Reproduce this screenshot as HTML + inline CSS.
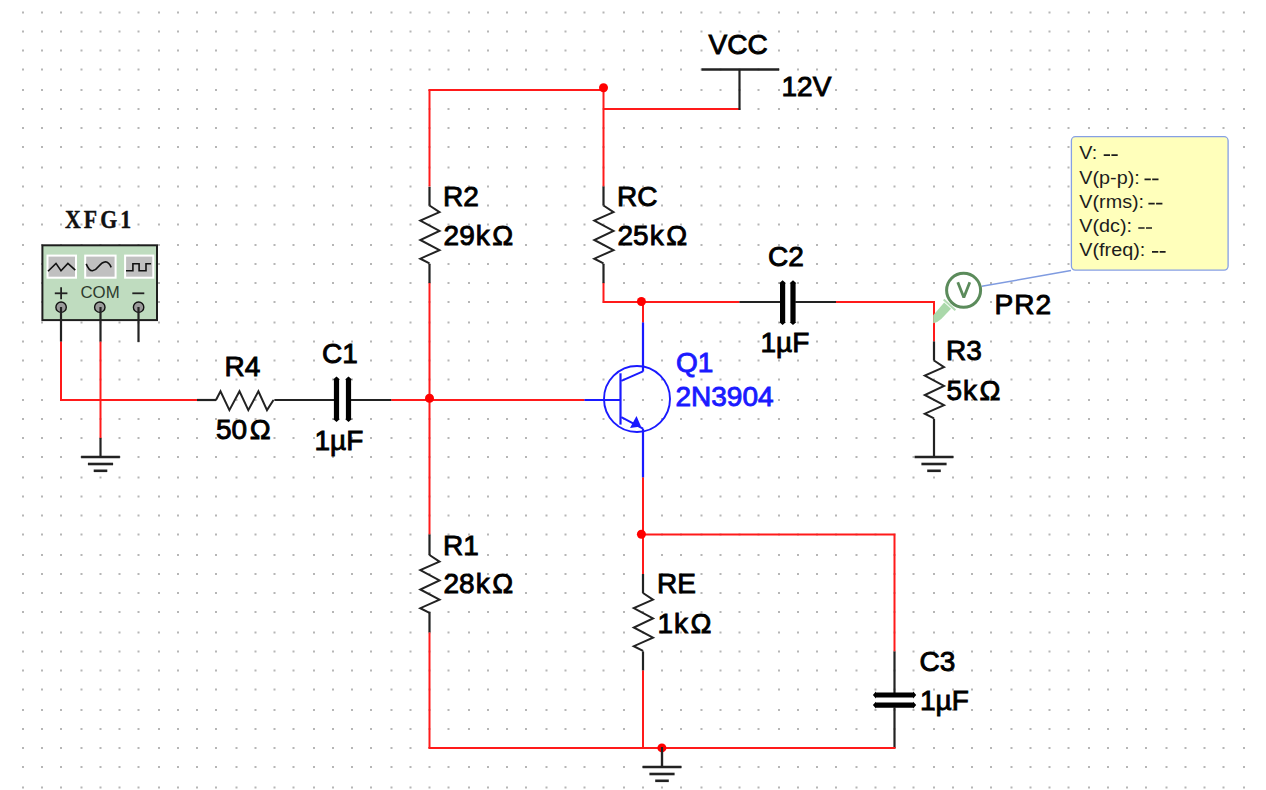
<!DOCTYPE html>
<html><head><meta charset="utf-8"><title>Multisim schematic</title>
<style>html,body{margin:0;padding:0;background:#fff;overflow:hidden}svg{display:block}</style>
</head><body>
<svg width="1266" height="790" viewBox="0 0 1266 790" font-family="Liberation Sans">
<path fill="#b6b6b6" d="M22 11.5h2v2h-2zM22 30.5h2v2h-2zM22 49.5h2v2h-2zM22 68.5h2v2h-2zM22 89h2v2h-2zM22 108h2v2h-2zM22 127h2v2h-2zM22 146h2v2h-2zM22 166.5h2v2h-2zM22 185.5h2v2h-2zM22 204.5h2v2h-2zM22 223.5h2v2h-2zM22 244h2v2h-2zM22 263h2v2h-2zM22 282h2v2h-2zM22 301h2v2h-2zM22 321.5h2v2h-2zM22 340.5h2v2h-2zM22 359.5h2v2h-2zM22 378.5h2v2h-2zM22 399h2v2h-2zM22 418h2v2h-2zM22 437h2v2h-2zM22 456h2v2h-2zM22 476.5h2v2h-2zM22 495.5h2v2h-2zM22 514.5h2v2h-2zM22 533.5h2v2h-2zM22 554h2v2h-2zM22 573h2v2h-2zM22 592h2v2h-2zM22 611h2v2h-2zM22 631.5h2v2h-2zM22 650.5h2v2h-2zM22 669.5h2v2h-2zM22 688.5h2v2h-2zM22 709h2v2h-2zM22 728h2v2h-2zM22 747h2v2h-2zM22 766h2v2h-2zM22 786.5h2v2h-2zM41 11.5h2v2h-2zM41 30.5h2v2h-2zM41 49.5h2v2h-2zM41 68.5h2v2h-2zM41 89h2v2h-2zM41 108h2v2h-2zM41 127h2v2h-2zM41 146h2v2h-2zM41 166.5h2v2h-2zM41 185.5h2v2h-2zM41 204.5h2v2h-2zM41 223.5h2v2h-2zM41 244h2v2h-2zM41 263h2v2h-2zM41 282h2v2h-2zM41 301h2v2h-2zM41 321.5h2v2h-2zM41 340.5h2v2h-2zM41 359.5h2v2h-2zM41 378.5h2v2h-2zM41 399h2v2h-2zM41 418h2v2h-2zM41 437h2v2h-2zM41 456h2v2h-2zM41 476.5h2v2h-2zM41 495.5h2v2h-2zM41 514.5h2v2h-2zM41 533.5h2v2h-2zM41 554h2v2h-2zM41 573h2v2h-2zM41 592h2v2h-2zM41 611h2v2h-2zM41 631.5h2v2h-2zM41 650.5h2v2h-2zM41 669.5h2v2h-2zM41 688.5h2v2h-2zM41 709h2v2h-2zM41 728h2v2h-2zM41 747h2v2h-2zM41 766h2v2h-2zM41 786.5h2v2h-2zM60 11.5h2v2h-2zM60 30.5h2v2h-2zM60 49.5h2v2h-2zM60 68.5h2v2h-2zM60 89h2v2h-2zM60 108h2v2h-2zM60 127h2v2h-2zM60 146h2v2h-2zM60 166.5h2v2h-2zM60 185.5h2v2h-2zM60 204.5h2v2h-2zM60 223.5h2v2h-2zM60 244h2v2h-2zM60 263h2v2h-2zM60 282h2v2h-2zM60 301h2v2h-2zM60 321.5h2v2h-2zM60 340.5h2v2h-2zM60 359.5h2v2h-2zM60 378.5h2v2h-2zM60 399h2v2h-2zM60 418h2v2h-2zM60 437h2v2h-2zM60 456h2v2h-2zM60 476.5h2v2h-2zM60 495.5h2v2h-2zM60 514.5h2v2h-2zM60 533.5h2v2h-2zM60 554h2v2h-2zM60 573h2v2h-2zM60 592h2v2h-2zM60 611h2v2h-2zM60 631.5h2v2h-2zM60 650.5h2v2h-2zM60 669.5h2v2h-2zM60 688.5h2v2h-2zM60 709h2v2h-2zM60 728h2v2h-2zM60 747h2v2h-2zM60 766h2v2h-2zM60 786.5h2v2h-2zM80.5 11.5h2v2h-2zM80.5 30.5h2v2h-2zM80.5 49.5h2v2h-2zM80.5 68.5h2v2h-2zM80.5 89h2v2h-2zM80.5 108h2v2h-2zM80.5 127h2v2h-2zM80.5 146h2v2h-2zM80.5 166.5h2v2h-2zM80.5 185.5h2v2h-2zM80.5 204.5h2v2h-2zM80.5 223.5h2v2h-2zM80.5 244h2v2h-2zM80.5 263h2v2h-2zM80.5 282h2v2h-2zM80.5 301h2v2h-2zM80.5 321.5h2v2h-2zM80.5 340.5h2v2h-2zM80.5 359.5h2v2h-2zM80.5 378.5h2v2h-2zM80.5 399h2v2h-2zM80.5 418h2v2h-2zM80.5 437h2v2h-2zM80.5 456h2v2h-2zM80.5 476.5h2v2h-2zM80.5 495.5h2v2h-2zM80.5 514.5h2v2h-2zM80.5 533.5h2v2h-2zM80.5 554h2v2h-2zM80.5 573h2v2h-2zM80.5 592h2v2h-2zM80.5 611h2v2h-2zM80.5 631.5h2v2h-2zM80.5 650.5h2v2h-2zM80.5 669.5h2v2h-2zM80.5 688.5h2v2h-2zM80.5 709h2v2h-2zM80.5 728h2v2h-2zM80.5 747h2v2h-2zM80.5 766h2v2h-2zM80.5 786.5h2v2h-2zM99.5 11.5h2v2h-2zM99.5 30.5h2v2h-2zM99.5 49.5h2v2h-2zM99.5 68.5h2v2h-2zM99.5 89h2v2h-2zM99.5 108h2v2h-2zM99.5 127h2v2h-2zM99.5 146h2v2h-2zM99.5 166.5h2v2h-2zM99.5 185.5h2v2h-2zM99.5 204.5h2v2h-2zM99.5 223.5h2v2h-2zM99.5 244h2v2h-2zM99.5 263h2v2h-2zM99.5 282h2v2h-2zM99.5 301h2v2h-2zM99.5 321.5h2v2h-2zM99.5 340.5h2v2h-2zM99.5 359.5h2v2h-2zM99.5 378.5h2v2h-2zM99.5 399h2v2h-2zM99.5 418h2v2h-2zM99.5 437h2v2h-2zM99.5 456h2v2h-2zM99.5 476.5h2v2h-2zM99.5 495.5h2v2h-2zM99.5 514.5h2v2h-2zM99.5 533.5h2v2h-2zM99.5 554h2v2h-2zM99.5 573h2v2h-2zM99.5 592h2v2h-2zM99.5 611h2v2h-2zM99.5 631.5h2v2h-2zM99.5 650.5h2v2h-2zM99.5 669.5h2v2h-2zM99.5 688.5h2v2h-2zM99.5 709h2v2h-2zM99.5 728h2v2h-2zM99.5 747h2v2h-2zM99.5 766h2v2h-2zM99.5 786.5h2v2h-2zM118.5 11.5h2v2h-2zM118.5 30.5h2v2h-2zM118.5 49.5h2v2h-2zM118.5 68.5h2v2h-2zM118.5 89h2v2h-2zM118.5 108h2v2h-2zM118.5 127h2v2h-2zM118.5 146h2v2h-2zM118.5 166.5h2v2h-2zM118.5 185.5h2v2h-2zM118.5 204.5h2v2h-2zM118.5 223.5h2v2h-2zM118.5 244h2v2h-2zM118.5 263h2v2h-2zM118.5 282h2v2h-2zM118.5 301h2v2h-2zM118.5 321.5h2v2h-2zM118.5 340.5h2v2h-2zM118.5 359.5h2v2h-2zM118.5 378.5h2v2h-2zM118.5 399h2v2h-2zM118.5 418h2v2h-2zM118.5 437h2v2h-2zM118.5 456h2v2h-2zM118.5 476.5h2v2h-2zM118.5 495.5h2v2h-2zM118.5 514.5h2v2h-2zM118.5 533.5h2v2h-2zM118.5 554h2v2h-2zM118.5 573h2v2h-2zM118.5 592h2v2h-2zM118.5 611h2v2h-2zM118.5 631.5h2v2h-2zM118.5 650.5h2v2h-2zM118.5 669.5h2v2h-2zM118.5 688.5h2v2h-2zM118.5 709h2v2h-2zM118.5 728h2v2h-2zM118.5 747h2v2h-2zM118.5 766h2v2h-2zM118.5 786.5h2v2h-2zM137.5 11.5h2v2h-2zM137.5 30.5h2v2h-2zM137.5 49.5h2v2h-2zM137.5 68.5h2v2h-2zM137.5 89h2v2h-2zM137.5 108h2v2h-2zM137.5 127h2v2h-2zM137.5 146h2v2h-2zM137.5 166.5h2v2h-2zM137.5 185.5h2v2h-2zM137.5 204.5h2v2h-2zM137.5 223.5h2v2h-2zM137.5 244h2v2h-2zM137.5 263h2v2h-2zM137.5 282h2v2h-2zM137.5 301h2v2h-2zM137.5 321.5h2v2h-2zM137.5 340.5h2v2h-2zM137.5 359.5h2v2h-2zM137.5 378.5h2v2h-2zM137.5 399h2v2h-2zM137.5 418h2v2h-2zM137.5 437h2v2h-2zM137.5 456h2v2h-2zM137.5 476.5h2v2h-2zM137.5 495.5h2v2h-2zM137.5 514.5h2v2h-2zM137.5 533.5h2v2h-2zM137.5 554h2v2h-2zM137.5 573h2v2h-2zM137.5 592h2v2h-2zM137.5 611h2v2h-2zM137.5 631.5h2v2h-2zM137.5 650.5h2v2h-2zM137.5 669.5h2v2h-2zM137.5 688.5h2v2h-2zM137.5 709h2v2h-2zM137.5 728h2v2h-2zM137.5 747h2v2h-2zM137.5 766h2v2h-2zM137.5 786.5h2v2h-2zM158 11.5h2v2h-2zM158 30.5h2v2h-2zM158 49.5h2v2h-2zM158 68.5h2v2h-2zM158 89h2v2h-2zM158 108h2v2h-2zM158 127h2v2h-2zM158 146h2v2h-2zM158 166.5h2v2h-2zM158 185.5h2v2h-2zM158 204.5h2v2h-2zM158 223.5h2v2h-2zM158 244h2v2h-2zM158 263h2v2h-2zM158 282h2v2h-2zM158 301h2v2h-2zM158 321.5h2v2h-2zM158 340.5h2v2h-2zM158 359.5h2v2h-2zM158 378.5h2v2h-2zM158 399h2v2h-2zM158 418h2v2h-2zM158 437h2v2h-2zM158 456h2v2h-2zM158 476.5h2v2h-2zM158 495.5h2v2h-2zM158 514.5h2v2h-2zM158 533.5h2v2h-2zM158 554h2v2h-2zM158 573h2v2h-2zM158 592h2v2h-2zM158 611h2v2h-2zM158 631.5h2v2h-2zM158 650.5h2v2h-2zM158 669.5h2v2h-2zM158 688.5h2v2h-2zM158 709h2v2h-2zM158 728h2v2h-2zM158 747h2v2h-2zM158 766h2v2h-2zM158 786.5h2v2h-2zM177 11.5h2v2h-2zM177 30.5h2v2h-2zM177 49.5h2v2h-2zM177 68.5h2v2h-2zM177 89h2v2h-2zM177 108h2v2h-2zM177 127h2v2h-2zM177 146h2v2h-2zM177 166.5h2v2h-2zM177 185.5h2v2h-2zM177 204.5h2v2h-2zM177 223.5h2v2h-2zM177 244h2v2h-2zM177 263h2v2h-2zM177 282h2v2h-2zM177 301h2v2h-2zM177 321.5h2v2h-2zM177 340.5h2v2h-2zM177 359.5h2v2h-2zM177 378.5h2v2h-2zM177 399h2v2h-2zM177 418h2v2h-2zM177 437h2v2h-2zM177 456h2v2h-2zM177 476.5h2v2h-2zM177 495.5h2v2h-2zM177 514.5h2v2h-2zM177 533.5h2v2h-2zM177 554h2v2h-2zM177 573h2v2h-2zM177 592h2v2h-2zM177 611h2v2h-2zM177 631.5h2v2h-2zM177 650.5h2v2h-2zM177 669.5h2v2h-2zM177 688.5h2v2h-2zM177 709h2v2h-2zM177 728h2v2h-2zM177 747h2v2h-2zM177 766h2v2h-2zM177 786.5h2v2h-2zM196 11.5h2v2h-2zM196 30.5h2v2h-2zM196 49.5h2v2h-2zM196 68.5h2v2h-2zM196 89h2v2h-2zM196 108h2v2h-2zM196 127h2v2h-2zM196 146h2v2h-2zM196 166.5h2v2h-2zM196 185.5h2v2h-2zM196 204.5h2v2h-2zM196 223.5h2v2h-2zM196 244h2v2h-2zM196 263h2v2h-2zM196 282h2v2h-2zM196 301h2v2h-2zM196 321.5h2v2h-2zM196 340.5h2v2h-2zM196 359.5h2v2h-2zM196 378.5h2v2h-2zM196 399h2v2h-2zM196 418h2v2h-2zM196 437h2v2h-2zM196 456h2v2h-2zM196 476.5h2v2h-2zM196 495.5h2v2h-2zM196 514.5h2v2h-2zM196 533.5h2v2h-2zM196 554h2v2h-2zM196 573h2v2h-2zM196 592h2v2h-2zM196 611h2v2h-2zM196 631.5h2v2h-2zM196 650.5h2v2h-2zM196 669.5h2v2h-2zM196 688.5h2v2h-2zM196 709h2v2h-2zM196 728h2v2h-2zM196 747h2v2h-2zM196 766h2v2h-2zM196 786.5h2v2h-2zM215 11.5h2v2h-2zM215 30.5h2v2h-2zM215 49.5h2v2h-2zM215 68.5h2v2h-2zM215 89h2v2h-2zM215 108h2v2h-2zM215 127h2v2h-2zM215 146h2v2h-2zM215 166.5h2v2h-2zM215 185.5h2v2h-2zM215 204.5h2v2h-2zM215 223.5h2v2h-2zM215 244h2v2h-2zM215 263h2v2h-2zM215 282h2v2h-2zM215 301h2v2h-2zM215 321.5h2v2h-2zM215 340.5h2v2h-2zM215 359.5h2v2h-2zM215 378.5h2v2h-2zM215 399h2v2h-2zM215 418h2v2h-2zM215 437h2v2h-2zM215 456h2v2h-2zM215 476.5h2v2h-2zM215 495.5h2v2h-2zM215 514.5h2v2h-2zM215 533.5h2v2h-2zM215 554h2v2h-2zM215 573h2v2h-2zM215 592h2v2h-2zM215 611h2v2h-2zM215 631.5h2v2h-2zM215 650.5h2v2h-2zM215 669.5h2v2h-2zM215 688.5h2v2h-2zM215 709h2v2h-2zM215 728h2v2h-2zM215 747h2v2h-2zM215 766h2v2h-2zM215 786.5h2v2h-2zM235.5 11.5h2v2h-2zM235.5 30.5h2v2h-2zM235.5 49.5h2v2h-2zM235.5 68.5h2v2h-2zM235.5 89h2v2h-2zM235.5 108h2v2h-2zM235.5 127h2v2h-2zM235.5 146h2v2h-2zM235.5 166.5h2v2h-2zM235.5 185.5h2v2h-2zM235.5 204.5h2v2h-2zM235.5 223.5h2v2h-2zM235.5 244h2v2h-2zM235.5 263h2v2h-2zM235.5 282h2v2h-2zM235.5 301h2v2h-2zM235.5 321.5h2v2h-2zM235.5 340.5h2v2h-2zM235.5 359.5h2v2h-2zM235.5 378.5h2v2h-2zM235.5 399h2v2h-2zM235.5 418h2v2h-2zM235.5 437h2v2h-2zM235.5 456h2v2h-2zM235.5 476.5h2v2h-2zM235.5 495.5h2v2h-2zM235.5 514.5h2v2h-2zM235.5 533.5h2v2h-2zM235.5 554h2v2h-2zM235.5 573h2v2h-2zM235.5 592h2v2h-2zM235.5 611h2v2h-2zM235.5 631.5h2v2h-2zM235.5 650.5h2v2h-2zM235.5 669.5h2v2h-2zM235.5 688.5h2v2h-2zM235.5 709h2v2h-2zM235.5 728h2v2h-2zM235.5 747h2v2h-2zM235.5 766h2v2h-2zM235.5 786.5h2v2h-2zM254.5 11.5h2v2h-2zM254.5 30.5h2v2h-2zM254.5 49.5h2v2h-2zM254.5 68.5h2v2h-2zM254.5 89h2v2h-2zM254.5 108h2v2h-2zM254.5 127h2v2h-2zM254.5 146h2v2h-2zM254.5 166.5h2v2h-2zM254.5 185.5h2v2h-2zM254.5 204.5h2v2h-2zM254.5 223.5h2v2h-2zM254.5 244h2v2h-2zM254.5 263h2v2h-2zM254.5 282h2v2h-2zM254.5 301h2v2h-2zM254.5 321.5h2v2h-2zM254.5 340.5h2v2h-2zM254.5 359.5h2v2h-2zM254.5 378.5h2v2h-2zM254.5 399h2v2h-2zM254.5 418h2v2h-2zM254.5 437h2v2h-2zM254.5 456h2v2h-2zM254.5 476.5h2v2h-2zM254.5 495.5h2v2h-2zM254.5 514.5h2v2h-2zM254.5 533.5h2v2h-2zM254.5 554h2v2h-2zM254.5 573h2v2h-2zM254.5 592h2v2h-2zM254.5 611h2v2h-2zM254.5 631.5h2v2h-2zM254.5 650.5h2v2h-2zM254.5 669.5h2v2h-2zM254.5 688.5h2v2h-2zM254.5 709h2v2h-2zM254.5 728h2v2h-2zM254.5 747h2v2h-2zM254.5 766h2v2h-2zM254.5 786.5h2v2h-2zM273.5 11.5h2v2h-2zM273.5 30.5h2v2h-2zM273.5 49.5h2v2h-2zM273.5 68.5h2v2h-2zM273.5 89h2v2h-2zM273.5 108h2v2h-2zM273.5 127h2v2h-2zM273.5 146h2v2h-2zM273.5 166.5h2v2h-2zM273.5 185.5h2v2h-2zM273.5 204.5h2v2h-2zM273.5 223.5h2v2h-2zM273.5 244h2v2h-2zM273.5 263h2v2h-2zM273.5 282h2v2h-2zM273.5 301h2v2h-2zM273.5 321.5h2v2h-2zM273.5 340.5h2v2h-2zM273.5 359.5h2v2h-2zM273.5 378.5h2v2h-2zM273.5 399h2v2h-2zM273.5 418h2v2h-2zM273.5 437h2v2h-2zM273.5 456h2v2h-2zM273.5 476.5h2v2h-2zM273.5 495.5h2v2h-2zM273.5 514.5h2v2h-2zM273.5 533.5h2v2h-2zM273.5 554h2v2h-2zM273.5 573h2v2h-2zM273.5 592h2v2h-2zM273.5 611h2v2h-2zM273.5 631.5h2v2h-2zM273.5 650.5h2v2h-2zM273.5 669.5h2v2h-2zM273.5 688.5h2v2h-2zM273.5 709h2v2h-2zM273.5 728h2v2h-2zM273.5 747h2v2h-2zM273.5 766h2v2h-2zM273.5 786.5h2v2h-2zM292.5 11.5h2v2h-2zM292.5 30.5h2v2h-2zM292.5 49.5h2v2h-2zM292.5 68.5h2v2h-2zM292.5 89h2v2h-2zM292.5 108h2v2h-2zM292.5 127h2v2h-2zM292.5 146h2v2h-2zM292.5 166.5h2v2h-2zM292.5 185.5h2v2h-2zM292.5 204.5h2v2h-2zM292.5 223.5h2v2h-2zM292.5 244h2v2h-2zM292.5 263h2v2h-2zM292.5 282h2v2h-2zM292.5 301h2v2h-2zM292.5 321.5h2v2h-2zM292.5 340.5h2v2h-2zM292.5 359.5h2v2h-2zM292.5 378.5h2v2h-2zM292.5 399h2v2h-2zM292.5 418h2v2h-2zM292.5 437h2v2h-2zM292.5 456h2v2h-2zM292.5 476.5h2v2h-2zM292.5 495.5h2v2h-2zM292.5 514.5h2v2h-2zM292.5 533.5h2v2h-2zM292.5 554h2v2h-2zM292.5 573h2v2h-2zM292.5 592h2v2h-2zM292.5 611h2v2h-2zM292.5 631.5h2v2h-2zM292.5 650.5h2v2h-2zM292.5 669.5h2v2h-2zM292.5 688.5h2v2h-2zM292.5 709h2v2h-2zM292.5 728h2v2h-2zM292.5 747h2v2h-2zM292.5 766h2v2h-2zM292.5 786.5h2v2h-2zM313 11.5h2v2h-2zM313 30.5h2v2h-2zM313 49.5h2v2h-2zM313 68.5h2v2h-2zM313 89h2v2h-2zM313 108h2v2h-2zM313 127h2v2h-2zM313 146h2v2h-2zM313 166.5h2v2h-2zM313 185.5h2v2h-2zM313 204.5h2v2h-2zM313 223.5h2v2h-2zM313 244h2v2h-2zM313 263h2v2h-2zM313 282h2v2h-2zM313 301h2v2h-2zM313 321.5h2v2h-2zM313 340.5h2v2h-2zM313 359.5h2v2h-2zM313 378.5h2v2h-2zM313 399h2v2h-2zM313 418h2v2h-2zM313 437h2v2h-2zM313 456h2v2h-2zM313 476.5h2v2h-2zM313 495.5h2v2h-2zM313 514.5h2v2h-2zM313 533.5h2v2h-2zM313 554h2v2h-2zM313 573h2v2h-2zM313 592h2v2h-2zM313 611h2v2h-2zM313 631.5h2v2h-2zM313 650.5h2v2h-2zM313 669.5h2v2h-2zM313 688.5h2v2h-2zM313 709h2v2h-2zM313 728h2v2h-2zM313 747h2v2h-2zM313 766h2v2h-2zM313 786.5h2v2h-2zM332 11.5h2v2h-2zM332 30.5h2v2h-2zM332 49.5h2v2h-2zM332 68.5h2v2h-2zM332 89h2v2h-2zM332 108h2v2h-2zM332 127h2v2h-2zM332 146h2v2h-2zM332 166.5h2v2h-2zM332 185.5h2v2h-2zM332 204.5h2v2h-2zM332 223.5h2v2h-2zM332 244h2v2h-2zM332 263h2v2h-2zM332 282h2v2h-2zM332 301h2v2h-2zM332 321.5h2v2h-2zM332 340.5h2v2h-2zM332 359.5h2v2h-2zM332 378.5h2v2h-2zM332 399h2v2h-2zM332 418h2v2h-2zM332 437h2v2h-2zM332 456h2v2h-2zM332 476.5h2v2h-2zM332 495.5h2v2h-2zM332 514.5h2v2h-2zM332 533.5h2v2h-2zM332 554h2v2h-2zM332 573h2v2h-2zM332 592h2v2h-2zM332 611h2v2h-2zM332 631.5h2v2h-2zM332 650.5h2v2h-2zM332 669.5h2v2h-2zM332 688.5h2v2h-2zM332 709h2v2h-2zM332 728h2v2h-2zM332 747h2v2h-2zM332 766h2v2h-2zM332 786.5h2v2h-2zM351 11.5h2v2h-2zM351 30.5h2v2h-2zM351 49.5h2v2h-2zM351 68.5h2v2h-2zM351 89h2v2h-2zM351 108h2v2h-2zM351 127h2v2h-2zM351 146h2v2h-2zM351 166.5h2v2h-2zM351 185.5h2v2h-2zM351 204.5h2v2h-2zM351 223.5h2v2h-2zM351 244h2v2h-2zM351 263h2v2h-2zM351 282h2v2h-2zM351 301h2v2h-2zM351 321.5h2v2h-2zM351 340.5h2v2h-2zM351 359.5h2v2h-2zM351 378.5h2v2h-2zM351 399h2v2h-2zM351 418h2v2h-2zM351 437h2v2h-2zM351 456h2v2h-2zM351 476.5h2v2h-2zM351 495.5h2v2h-2zM351 514.5h2v2h-2zM351 533.5h2v2h-2zM351 554h2v2h-2zM351 573h2v2h-2zM351 592h2v2h-2zM351 611h2v2h-2zM351 631.5h2v2h-2zM351 650.5h2v2h-2zM351 669.5h2v2h-2zM351 688.5h2v2h-2zM351 709h2v2h-2zM351 728h2v2h-2zM351 747h2v2h-2zM351 766h2v2h-2zM351 786.5h2v2h-2zM370 11.5h2v2h-2zM370 30.5h2v2h-2zM370 49.5h2v2h-2zM370 68.5h2v2h-2zM370 89h2v2h-2zM370 108h2v2h-2zM370 127h2v2h-2zM370 146h2v2h-2zM370 166.5h2v2h-2zM370 185.5h2v2h-2zM370 204.5h2v2h-2zM370 223.5h2v2h-2zM370 244h2v2h-2zM370 263h2v2h-2zM370 282h2v2h-2zM370 301h2v2h-2zM370 321.5h2v2h-2zM370 340.5h2v2h-2zM370 359.5h2v2h-2zM370 378.5h2v2h-2zM370 399h2v2h-2zM370 418h2v2h-2zM370 437h2v2h-2zM370 456h2v2h-2zM370 476.5h2v2h-2zM370 495.5h2v2h-2zM370 514.5h2v2h-2zM370 533.5h2v2h-2zM370 554h2v2h-2zM370 573h2v2h-2zM370 592h2v2h-2zM370 611h2v2h-2zM370 631.5h2v2h-2zM370 650.5h2v2h-2zM370 669.5h2v2h-2zM370 688.5h2v2h-2zM370 709h2v2h-2zM370 728h2v2h-2zM370 747h2v2h-2zM370 766h2v2h-2zM370 786.5h2v2h-2zM390.5 11.5h2v2h-2zM390.5 30.5h2v2h-2zM390.5 49.5h2v2h-2zM390.5 68.5h2v2h-2zM390.5 89h2v2h-2zM390.5 108h2v2h-2zM390.5 127h2v2h-2zM390.5 146h2v2h-2zM390.5 166.5h2v2h-2zM390.5 185.5h2v2h-2zM390.5 204.5h2v2h-2zM390.5 223.5h2v2h-2zM390.5 244h2v2h-2zM390.5 263h2v2h-2zM390.5 282h2v2h-2zM390.5 301h2v2h-2zM390.5 321.5h2v2h-2zM390.5 340.5h2v2h-2zM390.5 359.5h2v2h-2zM390.5 378.5h2v2h-2zM390.5 399h2v2h-2zM390.5 418h2v2h-2zM390.5 437h2v2h-2zM390.5 456h2v2h-2zM390.5 476.5h2v2h-2zM390.5 495.5h2v2h-2zM390.5 514.5h2v2h-2zM390.5 533.5h2v2h-2zM390.5 554h2v2h-2zM390.5 573h2v2h-2zM390.5 592h2v2h-2zM390.5 611h2v2h-2zM390.5 631.5h2v2h-2zM390.5 650.5h2v2h-2zM390.5 669.5h2v2h-2zM390.5 688.5h2v2h-2zM390.5 709h2v2h-2zM390.5 728h2v2h-2zM390.5 747h2v2h-2zM390.5 766h2v2h-2zM390.5 786.5h2v2h-2zM409.5 11.5h2v2h-2zM409.5 30.5h2v2h-2zM409.5 49.5h2v2h-2zM409.5 68.5h2v2h-2zM409.5 89h2v2h-2zM409.5 108h2v2h-2zM409.5 127h2v2h-2zM409.5 146h2v2h-2zM409.5 166.5h2v2h-2zM409.5 185.5h2v2h-2zM409.5 204.5h2v2h-2zM409.5 223.5h2v2h-2zM409.5 244h2v2h-2zM409.5 263h2v2h-2zM409.5 282h2v2h-2zM409.5 301h2v2h-2zM409.5 321.5h2v2h-2zM409.5 340.5h2v2h-2zM409.5 359.5h2v2h-2zM409.5 378.5h2v2h-2zM409.5 399h2v2h-2zM409.5 418h2v2h-2zM409.5 437h2v2h-2zM409.5 456h2v2h-2zM409.5 476.5h2v2h-2zM409.5 495.5h2v2h-2zM409.5 514.5h2v2h-2zM409.5 533.5h2v2h-2zM409.5 554h2v2h-2zM409.5 573h2v2h-2zM409.5 592h2v2h-2zM409.5 611h2v2h-2zM409.5 631.5h2v2h-2zM409.5 650.5h2v2h-2zM409.5 669.5h2v2h-2zM409.5 688.5h2v2h-2zM409.5 709h2v2h-2zM409.5 728h2v2h-2zM409.5 747h2v2h-2zM409.5 766h2v2h-2zM409.5 786.5h2v2h-2zM428.5 11.5h2v2h-2zM428.5 30.5h2v2h-2zM428.5 49.5h2v2h-2zM428.5 68.5h2v2h-2zM428.5 89h2v2h-2zM428.5 108h2v2h-2zM428.5 127h2v2h-2zM428.5 146h2v2h-2zM428.5 166.5h2v2h-2zM428.5 185.5h2v2h-2zM428.5 204.5h2v2h-2zM428.5 223.5h2v2h-2zM428.5 244h2v2h-2zM428.5 263h2v2h-2zM428.5 282h2v2h-2zM428.5 301h2v2h-2zM428.5 321.5h2v2h-2zM428.5 340.5h2v2h-2zM428.5 359.5h2v2h-2zM428.5 378.5h2v2h-2zM428.5 399h2v2h-2zM428.5 418h2v2h-2zM428.5 437h2v2h-2zM428.5 456h2v2h-2zM428.5 476.5h2v2h-2zM428.5 495.5h2v2h-2zM428.5 514.5h2v2h-2zM428.5 533.5h2v2h-2zM428.5 554h2v2h-2zM428.5 573h2v2h-2zM428.5 592h2v2h-2zM428.5 611h2v2h-2zM428.5 631.5h2v2h-2zM428.5 650.5h2v2h-2zM428.5 669.5h2v2h-2zM428.5 688.5h2v2h-2zM428.5 709h2v2h-2zM428.5 728h2v2h-2zM428.5 747h2v2h-2zM428.5 766h2v2h-2zM428.5 786.5h2v2h-2zM447.5 11.5h2v2h-2zM447.5 30.5h2v2h-2zM447.5 49.5h2v2h-2zM447.5 68.5h2v2h-2zM447.5 89h2v2h-2zM447.5 108h2v2h-2zM447.5 127h2v2h-2zM447.5 146h2v2h-2zM447.5 166.5h2v2h-2zM447.5 185.5h2v2h-2zM447.5 204.5h2v2h-2zM447.5 223.5h2v2h-2zM447.5 244h2v2h-2zM447.5 263h2v2h-2zM447.5 282h2v2h-2zM447.5 301h2v2h-2zM447.5 321.5h2v2h-2zM447.5 340.5h2v2h-2zM447.5 359.5h2v2h-2zM447.5 378.5h2v2h-2zM447.5 399h2v2h-2zM447.5 418h2v2h-2zM447.5 437h2v2h-2zM447.5 456h2v2h-2zM447.5 476.5h2v2h-2zM447.5 495.5h2v2h-2zM447.5 514.5h2v2h-2zM447.5 533.5h2v2h-2zM447.5 554h2v2h-2zM447.5 573h2v2h-2zM447.5 592h2v2h-2zM447.5 611h2v2h-2zM447.5 631.5h2v2h-2zM447.5 650.5h2v2h-2zM447.5 669.5h2v2h-2zM447.5 688.5h2v2h-2zM447.5 709h2v2h-2zM447.5 728h2v2h-2zM447.5 747h2v2h-2zM447.5 766h2v2h-2zM447.5 786.5h2v2h-2zM468 11.5h2v2h-2zM468 30.5h2v2h-2zM468 49.5h2v2h-2zM468 68.5h2v2h-2zM468 89h2v2h-2zM468 108h2v2h-2zM468 127h2v2h-2zM468 146h2v2h-2zM468 166.5h2v2h-2zM468 185.5h2v2h-2zM468 204.5h2v2h-2zM468 223.5h2v2h-2zM468 244h2v2h-2zM468 263h2v2h-2zM468 282h2v2h-2zM468 301h2v2h-2zM468 321.5h2v2h-2zM468 340.5h2v2h-2zM468 359.5h2v2h-2zM468 378.5h2v2h-2zM468 399h2v2h-2zM468 418h2v2h-2zM468 437h2v2h-2zM468 456h2v2h-2zM468 476.5h2v2h-2zM468 495.5h2v2h-2zM468 514.5h2v2h-2zM468 533.5h2v2h-2zM468 554h2v2h-2zM468 573h2v2h-2zM468 592h2v2h-2zM468 611h2v2h-2zM468 631.5h2v2h-2zM468 650.5h2v2h-2zM468 669.5h2v2h-2zM468 688.5h2v2h-2zM468 709h2v2h-2zM468 728h2v2h-2zM468 747h2v2h-2zM468 766h2v2h-2zM468 786.5h2v2h-2zM487 11.5h2v2h-2zM487 30.5h2v2h-2zM487 49.5h2v2h-2zM487 68.5h2v2h-2zM487 89h2v2h-2zM487 108h2v2h-2zM487 127h2v2h-2zM487 146h2v2h-2zM487 166.5h2v2h-2zM487 185.5h2v2h-2zM487 204.5h2v2h-2zM487 223.5h2v2h-2zM487 244h2v2h-2zM487 263h2v2h-2zM487 282h2v2h-2zM487 301h2v2h-2zM487 321.5h2v2h-2zM487 340.5h2v2h-2zM487 359.5h2v2h-2zM487 378.5h2v2h-2zM487 399h2v2h-2zM487 418h2v2h-2zM487 437h2v2h-2zM487 456h2v2h-2zM487 476.5h2v2h-2zM487 495.5h2v2h-2zM487 514.5h2v2h-2zM487 533.5h2v2h-2zM487 554h2v2h-2zM487 573h2v2h-2zM487 592h2v2h-2zM487 611h2v2h-2zM487 631.5h2v2h-2zM487 650.5h2v2h-2zM487 669.5h2v2h-2zM487 688.5h2v2h-2zM487 709h2v2h-2zM487 728h2v2h-2zM487 747h2v2h-2zM487 766h2v2h-2zM487 786.5h2v2h-2zM506 11.5h2v2h-2zM506 30.5h2v2h-2zM506 49.5h2v2h-2zM506 68.5h2v2h-2zM506 89h2v2h-2zM506 108h2v2h-2zM506 127h2v2h-2zM506 146h2v2h-2zM506 166.5h2v2h-2zM506 185.5h2v2h-2zM506 204.5h2v2h-2zM506 223.5h2v2h-2zM506 244h2v2h-2zM506 263h2v2h-2zM506 282h2v2h-2zM506 301h2v2h-2zM506 321.5h2v2h-2zM506 340.5h2v2h-2zM506 359.5h2v2h-2zM506 378.5h2v2h-2zM506 399h2v2h-2zM506 418h2v2h-2zM506 437h2v2h-2zM506 456h2v2h-2zM506 476.5h2v2h-2zM506 495.5h2v2h-2zM506 514.5h2v2h-2zM506 533.5h2v2h-2zM506 554h2v2h-2zM506 573h2v2h-2zM506 592h2v2h-2zM506 611h2v2h-2zM506 631.5h2v2h-2zM506 650.5h2v2h-2zM506 669.5h2v2h-2zM506 688.5h2v2h-2zM506 709h2v2h-2zM506 728h2v2h-2zM506 747h2v2h-2zM506 766h2v2h-2zM506 786.5h2v2h-2zM525 11.5h2v2h-2zM525 30.5h2v2h-2zM525 49.5h2v2h-2zM525 68.5h2v2h-2zM525 89h2v2h-2zM525 108h2v2h-2zM525 127h2v2h-2zM525 146h2v2h-2zM525 166.5h2v2h-2zM525 185.5h2v2h-2zM525 204.5h2v2h-2zM525 223.5h2v2h-2zM525 244h2v2h-2zM525 263h2v2h-2zM525 282h2v2h-2zM525 301h2v2h-2zM525 321.5h2v2h-2zM525 340.5h2v2h-2zM525 359.5h2v2h-2zM525 378.5h2v2h-2zM525 399h2v2h-2zM525 418h2v2h-2zM525 437h2v2h-2zM525 456h2v2h-2zM525 476.5h2v2h-2zM525 495.5h2v2h-2zM525 514.5h2v2h-2zM525 533.5h2v2h-2zM525 554h2v2h-2zM525 573h2v2h-2zM525 592h2v2h-2zM525 611h2v2h-2zM525 631.5h2v2h-2zM525 650.5h2v2h-2zM525 669.5h2v2h-2zM525 688.5h2v2h-2zM525 709h2v2h-2zM525 728h2v2h-2zM525 747h2v2h-2zM525 766h2v2h-2zM525 786.5h2v2h-2zM545.5 11.5h2v2h-2zM545.5 30.5h2v2h-2zM545.5 49.5h2v2h-2zM545.5 68.5h2v2h-2zM545.5 89h2v2h-2zM545.5 108h2v2h-2zM545.5 127h2v2h-2zM545.5 146h2v2h-2zM545.5 166.5h2v2h-2zM545.5 185.5h2v2h-2zM545.5 204.5h2v2h-2zM545.5 223.5h2v2h-2zM545.5 244h2v2h-2zM545.5 263h2v2h-2zM545.5 282h2v2h-2zM545.5 301h2v2h-2zM545.5 321.5h2v2h-2zM545.5 340.5h2v2h-2zM545.5 359.5h2v2h-2zM545.5 378.5h2v2h-2zM545.5 399h2v2h-2zM545.5 418h2v2h-2zM545.5 437h2v2h-2zM545.5 456h2v2h-2zM545.5 476.5h2v2h-2zM545.5 495.5h2v2h-2zM545.5 514.5h2v2h-2zM545.5 533.5h2v2h-2zM545.5 554h2v2h-2zM545.5 573h2v2h-2zM545.5 592h2v2h-2zM545.5 611h2v2h-2zM545.5 631.5h2v2h-2zM545.5 650.5h2v2h-2zM545.5 669.5h2v2h-2zM545.5 688.5h2v2h-2zM545.5 709h2v2h-2zM545.5 728h2v2h-2zM545.5 747h2v2h-2zM545.5 766h2v2h-2zM545.5 786.5h2v2h-2zM564.5 11.5h2v2h-2zM564.5 30.5h2v2h-2zM564.5 49.5h2v2h-2zM564.5 68.5h2v2h-2zM564.5 89h2v2h-2zM564.5 108h2v2h-2zM564.5 127h2v2h-2zM564.5 146h2v2h-2zM564.5 166.5h2v2h-2zM564.5 185.5h2v2h-2zM564.5 204.5h2v2h-2zM564.5 223.5h2v2h-2zM564.5 244h2v2h-2zM564.5 263h2v2h-2zM564.5 282h2v2h-2zM564.5 301h2v2h-2zM564.5 321.5h2v2h-2zM564.5 340.5h2v2h-2zM564.5 359.5h2v2h-2zM564.5 378.5h2v2h-2zM564.5 399h2v2h-2zM564.5 418h2v2h-2zM564.5 437h2v2h-2zM564.5 456h2v2h-2zM564.5 476.5h2v2h-2zM564.5 495.5h2v2h-2zM564.5 514.5h2v2h-2zM564.5 533.5h2v2h-2zM564.5 554h2v2h-2zM564.5 573h2v2h-2zM564.5 592h2v2h-2zM564.5 611h2v2h-2zM564.5 631.5h2v2h-2zM564.5 650.5h2v2h-2zM564.5 669.5h2v2h-2zM564.5 688.5h2v2h-2zM564.5 709h2v2h-2zM564.5 728h2v2h-2zM564.5 747h2v2h-2zM564.5 766h2v2h-2zM564.5 786.5h2v2h-2zM583.5 11.5h2v2h-2zM583.5 30.5h2v2h-2zM583.5 49.5h2v2h-2zM583.5 68.5h2v2h-2zM583.5 89h2v2h-2zM583.5 108h2v2h-2zM583.5 127h2v2h-2zM583.5 146h2v2h-2zM583.5 166.5h2v2h-2zM583.5 185.5h2v2h-2zM583.5 204.5h2v2h-2zM583.5 223.5h2v2h-2zM583.5 244h2v2h-2zM583.5 263h2v2h-2zM583.5 282h2v2h-2zM583.5 301h2v2h-2zM583.5 321.5h2v2h-2zM583.5 340.5h2v2h-2zM583.5 359.5h2v2h-2zM583.5 378.5h2v2h-2zM583.5 399h2v2h-2zM583.5 418h2v2h-2zM583.5 437h2v2h-2zM583.5 456h2v2h-2zM583.5 476.5h2v2h-2zM583.5 495.5h2v2h-2zM583.5 514.5h2v2h-2zM583.5 533.5h2v2h-2zM583.5 554h2v2h-2zM583.5 573h2v2h-2zM583.5 592h2v2h-2zM583.5 611h2v2h-2zM583.5 631.5h2v2h-2zM583.5 650.5h2v2h-2zM583.5 669.5h2v2h-2zM583.5 688.5h2v2h-2zM583.5 709h2v2h-2zM583.5 728h2v2h-2zM583.5 747h2v2h-2zM583.5 766h2v2h-2zM583.5 786.5h2v2h-2zM602.5 11.5h2v2h-2zM602.5 30.5h2v2h-2zM602.5 49.5h2v2h-2zM602.5 68.5h2v2h-2zM602.5 89h2v2h-2zM602.5 108h2v2h-2zM602.5 127h2v2h-2zM602.5 146h2v2h-2zM602.5 166.5h2v2h-2zM602.5 185.5h2v2h-2zM602.5 204.5h2v2h-2zM602.5 223.5h2v2h-2zM602.5 244h2v2h-2zM602.5 263h2v2h-2zM602.5 282h2v2h-2zM602.5 301h2v2h-2zM602.5 321.5h2v2h-2zM602.5 340.5h2v2h-2zM602.5 359.5h2v2h-2zM602.5 378.5h2v2h-2zM602.5 399h2v2h-2zM602.5 418h2v2h-2zM602.5 437h2v2h-2zM602.5 456h2v2h-2zM602.5 476.5h2v2h-2zM602.5 495.5h2v2h-2zM602.5 514.5h2v2h-2zM602.5 533.5h2v2h-2zM602.5 554h2v2h-2zM602.5 573h2v2h-2zM602.5 592h2v2h-2zM602.5 611h2v2h-2zM602.5 631.5h2v2h-2zM602.5 650.5h2v2h-2zM602.5 669.5h2v2h-2zM602.5 688.5h2v2h-2zM602.5 709h2v2h-2zM602.5 728h2v2h-2zM602.5 747h2v2h-2zM602.5 766h2v2h-2zM602.5 786.5h2v2h-2zM623 11.5h2v2h-2zM623 30.5h2v2h-2zM623 49.5h2v2h-2zM623 68.5h2v2h-2zM623 89h2v2h-2zM623 108h2v2h-2zM623 127h2v2h-2zM623 146h2v2h-2zM623 166.5h2v2h-2zM623 185.5h2v2h-2zM623 204.5h2v2h-2zM623 223.5h2v2h-2zM623 244h2v2h-2zM623 263h2v2h-2zM623 282h2v2h-2zM623 301h2v2h-2zM623 321.5h2v2h-2zM623 340.5h2v2h-2zM623 359.5h2v2h-2zM623 378.5h2v2h-2zM623 399h2v2h-2zM623 418h2v2h-2zM623 437h2v2h-2zM623 456h2v2h-2zM623 476.5h2v2h-2zM623 495.5h2v2h-2zM623 514.5h2v2h-2zM623 533.5h2v2h-2zM623 554h2v2h-2zM623 573h2v2h-2zM623 592h2v2h-2zM623 611h2v2h-2zM623 631.5h2v2h-2zM623 650.5h2v2h-2zM623 669.5h2v2h-2zM623 688.5h2v2h-2zM623 709h2v2h-2zM623 728h2v2h-2zM623 747h2v2h-2zM623 766h2v2h-2zM623 786.5h2v2h-2zM642 11.5h2v2h-2zM642 30.5h2v2h-2zM642 49.5h2v2h-2zM642 68.5h2v2h-2zM642 89h2v2h-2zM642 108h2v2h-2zM642 127h2v2h-2zM642 146h2v2h-2zM642 166.5h2v2h-2zM642 185.5h2v2h-2zM642 204.5h2v2h-2zM642 223.5h2v2h-2zM642 244h2v2h-2zM642 263h2v2h-2zM642 282h2v2h-2zM642 301h2v2h-2zM642 321.5h2v2h-2zM642 340.5h2v2h-2zM642 359.5h2v2h-2zM642 378.5h2v2h-2zM642 399h2v2h-2zM642 418h2v2h-2zM642 437h2v2h-2zM642 456h2v2h-2zM642 476.5h2v2h-2zM642 495.5h2v2h-2zM642 514.5h2v2h-2zM642 533.5h2v2h-2zM642 554h2v2h-2zM642 573h2v2h-2zM642 592h2v2h-2zM642 611h2v2h-2zM642 631.5h2v2h-2zM642 650.5h2v2h-2zM642 669.5h2v2h-2zM642 688.5h2v2h-2zM642 709h2v2h-2zM642 728h2v2h-2zM642 747h2v2h-2zM642 766h2v2h-2zM642 786.5h2v2h-2zM661 11.5h2v2h-2zM661 30.5h2v2h-2zM661 49.5h2v2h-2zM661 68.5h2v2h-2zM661 89h2v2h-2zM661 108h2v2h-2zM661 127h2v2h-2zM661 146h2v2h-2zM661 166.5h2v2h-2zM661 185.5h2v2h-2zM661 204.5h2v2h-2zM661 223.5h2v2h-2zM661 244h2v2h-2zM661 263h2v2h-2zM661 282h2v2h-2zM661 301h2v2h-2zM661 321.5h2v2h-2zM661 340.5h2v2h-2zM661 359.5h2v2h-2zM661 378.5h2v2h-2zM661 399h2v2h-2zM661 418h2v2h-2zM661 437h2v2h-2zM661 456h2v2h-2zM661 476.5h2v2h-2zM661 495.5h2v2h-2zM661 514.5h2v2h-2zM661 533.5h2v2h-2zM661 554h2v2h-2zM661 573h2v2h-2zM661 592h2v2h-2zM661 611h2v2h-2zM661 631.5h2v2h-2zM661 650.5h2v2h-2zM661 669.5h2v2h-2zM661 688.5h2v2h-2zM661 709h2v2h-2zM661 728h2v2h-2zM661 747h2v2h-2zM661 766h2v2h-2zM661 786.5h2v2h-2zM680 11.5h2v2h-2zM680 30.5h2v2h-2zM680 49.5h2v2h-2zM680 68.5h2v2h-2zM680 89h2v2h-2zM680 108h2v2h-2zM680 127h2v2h-2zM680 146h2v2h-2zM680 166.5h2v2h-2zM680 185.5h2v2h-2zM680 204.5h2v2h-2zM680 223.5h2v2h-2zM680 244h2v2h-2zM680 263h2v2h-2zM680 282h2v2h-2zM680 301h2v2h-2zM680 321.5h2v2h-2zM680 340.5h2v2h-2zM680 359.5h2v2h-2zM680 378.5h2v2h-2zM680 399h2v2h-2zM680 418h2v2h-2zM680 437h2v2h-2zM680 456h2v2h-2zM680 476.5h2v2h-2zM680 495.5h2v2h-2zM680 514.5h2v2h-2zM680 533.5h2v2h-2zM680 554h2v2h-2zM680 573h2v2h-2zM680 592h2v2h-2zM680 611h2v2h-2zM680 631.5h2v2h-2zM680 650.5h2v2h-2zM680 669.5h2v2h-2zM680 688.5h2v2h-2zM680 709h2v2h-2zM680 728h2v2h-2zM680 747h2v2h-2zM680 766h2v2h-2zM680 786.5h2v2h-2zM700.5 11.5h2v2h-2zM700.5 30.5h2v2h-2zM700.5 49.5h2v2h-2zM700.5 68.5h2v2h-2zM700.5 89h2v2h-2zM700.5 108h2v2h-2zM700.5 127h2v2h-2zM700.5 146h2v2h-2zM700.5 166.5h2v2h-2zM700.5 185.5h2v2h-2zM700.5 204.5h2v2h-2zM700.5 223.5h2v2h-2zM700.5 244h2v2h-2zM700.5 263h2v2h-2zM700.5 282h2v2h-2zM700.5 301h2v2h-2zM700.5 321.5h2v2h-2zM700.5 340.5h2v2h-2zM700.5 359.5h2v2h-2zM700.5 378.5h2v2h-2zM700.5 399h2v2h-2zM700.5 418h2v2h-2zM700.5 437h2v2h-2zM700.5 456h2v2h-2zM700.5 476.5h2v2h-2zM700.5 495.5h2v2h-2zM700.5 514.5h2v2h-2zM700.5 533.5h2v2h-2zM700.5 554h2v2h-2zM700.5 573h2v2h-2zM700.5 592h2v2h-2zM700.5 611h2v2h-2zM700.5 631.5h2v2h-2zM700.5 650.5h2v2h-2zM700.5 669.5h2v2h-2zM700.5 688.5h2v2h-2zM700.5 709h2v2h-2zM700.5 728h2v2h-2zM700.5 747h2v2h-2zM700.5 766h2v2h-2zM700.5 786.5h2v2h-2zM719.5 11.5h2v2h-2zM719.5 30.5h2v2h-2zM719.5 49.5h2v2h-2zM719.5 68.5h2v2h-2zM719.5 89h2v2h-2zM719.5 108h2v2h-2zM719.5 127h2v2h-2zM719.5 146h2v2h-2zM719.5 166.5h2v2h-2zM719.5 185.5h2v2h-2zM719.5 204.5h2v2h-2zM719.5 223.5h2v2h-2zM719.5 244h2v2h-2zM719.5 263h2v2h-2zM719.5 282h2v2h-2zM719.5 301h2v2h-2zM719.5 321.5h2v2h-2zM719.5 340.5h2v2h-2zM719.5 359.5h2v2h-2zM719.5 378.5h2v2h-2zM719.5 399h2v2h-2zM719.5 418h2v2h-2zM719.5 437h2v2h-2zM719.5 456h2v2h-2zM719.5 476.5h2v2h-2zM719.5 495.5h2v2h-2zM719.5 514.5h2v2h-2zM719.5 533.5h2v2h-2zM719.5 554h2v2h-2zM719.5 573h2v2h-2zM719.5 592h2v2h-2zM719.5 611h2v2h-2zM719.5 631.5h2v2h-2zM719.5 650.5h2v2h-2zM719.5 669.5h2v2h-2zM719.5 688.5h2v2h-2zM719.5 709h2v2h-2zM719.5 728h2v2h-2zM719.5 747h2v2h-2zM719.5 766h2v2h-2zM719.5 786.5h2v2h-2zM738.5 11.5h2v2h-2zM738.5 30.5h2v2h-2zM738.5 49.5h2v2h-2zM738.5 68.5h2v2h-2zM738.5 89h2v2h-2zM738.5 108h2v2h-2zM738.5 127h2v2h-2zM738.5 146h2v2h-2zM738.5 166.5h2v2h-2zM738.5 185.5h2v2h-2zM738.5 204.5h2v2h-2zM738.5 223.5h2v2h-2zM738.5 244h2v2h-2zM738.5 263h2v2h-2zM738.5 282h2v2h-2zM738.5 301h2v2h-2zM738.5 321.5h2v2h-2zM738.5 340.5h2v2h-2zM738.5 359.5h2v2h-2zM738.5 378.5h2v2h-2zM738.5 399h2v2h-2zM738.5 418h2v2h-2zM738.5 437h2v2h-2zM738.5 456h2v2h-2zM738.5 476.5h2v2h-2zM738.5 495.5h2v2h-2zM738.5 514.5h2v2h-2zM738.5 533.5h2v2h-2zM738.5 554h2v2h-2zM738.5 573h2v2h-2zM738.5 592h2v2h-2zM738.5 611h2v2h-2zM738.5 631.5h2v2h-2zM738.5 650.5h2v2h-2zM738.5 669.5h2v2h-2zM738.5 688.5h2v2h-2zM738.5 709h2v2h-2zM738.5 728h2v2h-2zM738.5 747h2v2h-2zM738.5 766h2v2h-2zM738.5 786.5h2v2h-2zM757.5 11.5h2v2h-2zM757.5 30.5h2v2h-2zM757.5 49.5h2v2h-2zM757.5 68.5h2v2h-2zM757.5 89h2v2h-2zM757.5 108h2v2h-2zM757.5 127h2v2h-2zM757.5 146h2v2h-2zM757.5 166.5h2v2h-2zM757.5 185.5h2v2h-2zM757.5 204.5h2v2h-2zM757.5 223.5h2v2h-2zM757.5 244h2v2h-2zM757.5 263h2v2h-2zM757.5 282h2v2h-2zM757.5 301h2v2h-2zM757.5 321.5h2v2h-2zM757.5 340.5h2v2h-2zM757.5 359.5h2v2h-2zM757.5 378.5h2v2h-2zM757.5 399h2v2h-2zM757.5 418h2v2h-2zM757.5 437h2v2h-2zM757.5 456h2v2h-2zM757.5 476.5h2v2h-2zM757.5 495.5h2v2h-2zM757.5 514.5h2v2h-2zM757.5 533.5h2v2h-2zM757.5 554h2v2h-2zM757.5 573h2v2h-2zM757.5 592h2v2h-2zM757.5 611h2v2h-2zM757.5 631.5h2v2h-2zM757.5 650.5h2v2h-2zM757.5 669.5h2v2h-2zM757.5 688.5h2v2h-2zM757.5 709h2v2h-2zM757.5 728h2v2h-2zM757.5 747h2v2h-2zM757.5 766h2v2h-2zM757.5 786.5h2v2h-2zM778 11.5h2v2h-2zM778 30.5h2v2h-2zM778 49.5h2v2h-2zM778 68.5h2v2h-2zM778 89h2v2h-2zM778 108h2v2h-2zM778 127h2v2h-2zM778 146h2v2h-2zM778 166.5h2v2h-2zM778 185.5h2v2h-2zM778 204.5h2v2h-2zM778 223.5h2v2h-2zM778 244h2v2h-2zM778 263h2v2h-2zM778 282h2v2h-2zM778 301h2v2h-2zM778 321.5h2v2h-2zM778 340.5h2v2h-2zM778 359.5h2v2h-2zM778 378.5h2v2h-2zM778 399h2v2h-2zM778 418h2v2h-2zM778 437h2v2h-2zM778 456h2v2h-2zM778 476.5h2v2h-2zM778 495.5h2v2h-2zM778 514.5h2v2h-2zM778 533.5h2v2h-2zM778 554h2v2h-2zM778 573h2v2h-2zM778 592h2v2h-2zM778 611h2v2h-2zM778 631.5h2v2h-2zM778 650.5h2v2h-2zM778 669.5h2v2h-2zM778 688.5h2v2h-2zM778 709h2v2h-2zM778 728h2v2h-2zM778 747h2v2h-2zM778 766h2v2h-2zM778 786.5h2v2h-2zM797 11.5h2v2h-2zM797 30.5h2v2h-2zM797 49.5h2v2h-2zM797 68.5h2v2h-2zM797 89h2v2h-2zM797 108h2v2h-2zM797 127h2v2h-2zM797 146h2v2h-2zM797 166.5h2v2h-2zM797 185.5h2v2h-2zM797 204.5h2v2h-2zM797 223.5h2v2h-2zM797 244h2v2h-2zM797 263h2v2h-2zM797 282h2v2h-2zM797 301h2v2h-2zM797 321.5h2v2h-2zM797 340.5h2v2h-2zM797 359.5h2v2h-2zM797 378.5h2v2h-2zM797 399h2v2h-2zM797 418h2v2h-2zM797 437h2v2h-2zM797 456h2v2h-2zM797 476.5h2v2h-2zM797 495.5h2v2h-2zM797 514.5h2v2h-2zM797 533.5h2v2h-2zM797 554h2v2h-2zM797 573h2v2h-2zM797 592h2v2h-2zM797 611h2v2h-2zM797 631.5h2v2h-2zM797 650.5h2v2h-2zM797 669.5h2v2h-2zM797 688.5h2v2h-2zM797 709h2v2h-2zM797 728h2v2h-2zM797 747h2v2h-2zM797 766h2v2h-2zM797 786.5h2v2h-2zM816 11.5h2v2h-2zM816 30.5h2v2h-2zM816 49.5h2v2h-2zM816 68.5h2v2h-2zM816 89h2v2h-2zM816 108h2v2h-2zM816 127h2v2h-2zM816 146h2v2h-2zM816 166.5h2v2h-2zM816 185.5h2v2h-2zM816 204.5h2v2h-2zM816 223.5h2v2h-2zM816 244h2v2h-2zM816 263h2v2h-2zM816 282h2v2h-2zM816 301h2v2h-2zM816 321.5h2v2h-2zM816 340.5h2v2h-2zM816 359.5h2v2h-2zM816 378.5h2v2h-2zM816 399h2v2h-2zM816 418h2v2h-2zM816 437h2v2h-2zM816 456h2v2h-2zM816 476.5h2v2h-2zM816 495.5h2v2h-2zM816 514.5h2v2h-2zM816 533.5h2v2h-2zM816 554h2v2h-2zM816 573h2v2h-2zM816 592h2v2h-2zM816 611h2v2h-2zM816 631.5h2v2h-2zM816 650.5h2v2h-2zM816 669.5h2v2h-2zM816 688.5h2v2h-2zM816 709h2v2h-2zM816 728h2v2h-2zM816 747h2v2h-2zM816 766h2v2h-2zM816 786.5h2v2h-2zM835 11.5h2v2h-2zM835 30.5h2v2h-2zM835 49.5h2v2h-2zM835 68.5h2v2h-2zM835 89h2v2h-2zM835 108h2v2h-2zM835 127h2v2h-2zM835 146h2v2h-2zM835 166.5h2v2h-2zM835 185.5h2v2h-2zM835 204.5h2v2h-2zM835 223.5h2v2h-2zM835 244h2v2h-2zM835 263h2v2h-2zM835 282h2v2h-2zM835 301h2v2h-2zM835 321.5h2v2h-2zM835 340.5h2v2h-2zM835 359.5h2v2h-2zM835 378.5h2v2h-2zM835 399h2v2h-2zM835 418h2v2h-2zM835 437h2v2h-2zM835 456h2v2h-2zM835 476.5h2v2h-2zM835 495.5h2v2h-2zM835 514.5h2v2h-2zM835 533.5h2v2h-2zM835 554h2v2h-2zM835 573h2v2h-2zM835 592h2v2h-2zM835 611h2v2h-2zM835 631.5h2v2h-2zM835 650.5h2v2h-2zM835 669.5h2v2h-2zM835 688.5h2v2h-2zM835 709h2v2h-2zM835 728h2v2h-2zM835 747h2v2h-2zM835 766h2v2h-2zM835 786.5h2v2h-2zM855.5 11.5h2v2h-2zM855.5 30.5h2v2h-2zM855.5 49.5h2v2h-2zM855.5 68.5h2v2h-2zM855.5 89h2v2h-2zM855.5 108h2v2h-2zM855.5 127h2v2h-2zM855.5 146h2v2h-2zM855.5 166.5h2v2h-2zM855.5 185.5h2v2h-2zM855.5 204.5h2v2h-2zM855.5 223.5h2v2h-2zM855.5 244h2v2h-2zM855.5 263h2v2h-2zM855.5 282h2v2h-2zM855.5 301h2v2h-2zM855.5 321.5h2v2h-2zM855.5 340.5h2v2h-2zM855.5 359.5h2v2h-2zM855.5 378.5h2v2h-2zM855.5 399h2v2h-2zM855.5 418h2v2h-2zM855.5 437h2v2h-2zM855.5 456h2v2h-2zM855.5 476.5h2v2h-2zM855.5 495.5h2v2h-2zM855.5 514.5h2v2h-2zM855.5 533.5h2v2h-2zM855.5 554h2v2h-2zM855.5 573h2v2h-2zM855.5 592h2v2h-2zM855.5 611h2v2h-2zM855.5 631.5h2v2h-2zM855.5 650.5h2v2h-2zM855.5 669.5h2v2h-2zM855.5 688.5h2v2h-2zM855.5 709h2v2h-2zM855.5 728h2v2h-2zM855.5 747h2v2h-2zM855.5 766h2v2h-2zM855.5 786.5h2v2h-2zM874.5 11.5h2v2h-2zM874.5 30.5h2v2h-2zM874.5 49.5h2v2h-2zM874.5 68.5h2v2h-2zM874.5 89h2v2h-2zM874.5 108h2v2h-2zM874.5 127h2v2h-2zM874.5 146h2v2h-2zM874.5 166.5h2v2h-2zM874.5 185.5h2v2h-2zM874.5 204.5h2v2h-2zM874.5 223.5h2v2h-2zM874.5 244h2v2h-2zM874.5 263h2v2h-2zM874.5 282h2v2h-2zM874.5 301h2v2h-2zM874.5 321.5h2v2h-2zM874.5 340.5h2v2h-2zM874.5 359.5h2v2h-2zM874.5 378.5h2v2h-2zM874.5 399h2v2h-2zM874.5 418h2v2h-2zM874.5 437h2v2h-2zM874.5 456h2v2h-2zM874.5 476.5h2v2h-2zM874.5 495.5h2v2h-2zM874.5 514.5h2v2h-2zM874.5 533.5h2v2h-2zM874.5 554h2v2h-2zM874.5 573h2v2h-2zM874.5 592h2v2h-2zM874.5 611h2v2h-2zM874.5 631.5h2v2h-2zM874.5 650.5h2v2h-2zM874.5 669.5h2v2h-2zM874.5 688.5h2v2h-2zM874.5 709h2v2h-2zM874.5 728h2v2h-2zM874.5 747h2v2h-2zM874.5 766h2v2h-2zM874.5 786.5h2v2h-2zM893.5 11.5h2v2h-2zM893.5 30.5h2v2h-2zM893.5 49.5h2v2h-2zM893.5 68.5h2v2h-2zM893.5 89h2v2h-2zM893.5 108h2v2h-2zM893.5 127h2v2h-2zM893.5 146h2v2h-2zM893.5 166.5h2v2h-2zM893.5 185.5h2v2h-2zM893.5 204.5h2v2h-2zM893.5 223.5h2v2h-2zM893.5 244h2v2h-2zM893.5 263h2v2h-2zM893.5 282h2v2h-2zM893.5 301h2v2h-2zM893.5 321.5h2v2h-2zM893.5 340.5h2v2h-2zM893.5 359.5h2v2h-2zM893.5 378.5h2v2h-2zM893.5 399h2v2h-2zM893.5 418h2v2h-2zM893.5 437h2v2h-2zM893.5 456h2v2h-2zM893.5 476.5h2v2h-2zM893.5 495.5h2v2h-2zM893.5 514.5h2v2h-2zM893.5 533.5h2v2h-2zM893.5 554h2v2h-2zM893.5 573h2v2h-2zM893.5 592h2v2h-2zM893.5 611h2v2h-2zM893.5 631.5h2v2h-2zM893.5 650.5h2v2h-2zM893.5 669.5h2v2h-2zM893.5 688.5h2v2h-2zM893.5 709h2v2h-2zM893.5 728h2v2h-2zM893.5 747h2v2h-2zM893.5 766h2v2h-2zM893.5 786.5h2v2h-2zM912.5 11.5h2v2h-2zM912.5 30.5h2v2h-2zM912.5 49.5h2v2h-2zM912.5 68.5h2v2h-2zM912.5 89h2v2h-2zM912.5 108h2v2h-2zM912.5 127h2v2h-2zM912.5 146h2v2h-2zM912.5 166.5h2v2h-2zM912.5 185.5h2v2h-2zM912.5 204.5h2v2h-2zM912.5 223.5h2v2h-2zM912.5 244h2v2h-2zM912.5 263h2v2h-2zM912.5 282h2v2h-2zM912.5 301h2v2h-2zM912.5 321.5h2v2h-2zM912.5 340.5h2v2h-2zM912.5 359.5h2v2h-2zM912.5 378.5h2v2h-2zM912.5 399h2v2h-2zM912.5 418h2v2h-2zM912.5 437h2v2h-2zM912.5 456h2v2h-2zM912.5 476.5h2v2h-2zM912.5 495.5h2v2h-2zM912.5 514.5h2v2h-2zM912.5 533.5h2v2h-2zM912.5 554h2v2h-2zM912.5 573h2v2h-2zM912.5 592h2v2h-2zM912.5 611h2v2h-2zM912.5 631.5h2v2h-2zM912.5 650.5h2v2h-2zM912.5 669.5h2v2h-2zM912.5 688.5h2v2h-2zM912.5 709h2v2h-2zM912.5 728h2v2h-2zM912.5 747h2v2h-2zM912.5 766h2v2h-2zM912.5 786.5h2v2h-2zM933 11.5h2v2h-2zM933 30.5h2v2h-2zM933 49.5h2v2h-2zM933 68.5h2v2h-2zM933 89h2v2h-2zM933 108h2v2h-2zM933 127h2v2h-2zM933 146h2v2h-2zM933 166.5h2v2h-2zM933 185.5h2v2h-2zM933 204.5h2v2h-2zM933 223.5h2v2h-2zM933 244h2v2h-2zM933 263h2v2h-2zM933 282h2v2h-2zM933 301h2v2h-2zM933 321.5h2v2h-2zM933 340.5h2v2h-2zM933 359.5h2v2h-2zM933 378.5h2v2h-2zM933 399h2v2h-2zM933 418h2v2h-2zM933 437h2v2h-2zM933 456h2v2h-2zM933 476.5h2v2h-2zM933 495.5h2v2h-2zM933 514.5h2v2h-2zM933 533.5h2v2h-2zM933 554h2v2h-2zM933 573h2v2h-2zM933 592h2v2h-2zM933 611h2v2h-2zM933 631.5h2v2h-2zM933 650.5h2v2h-2zM933 669.5h2v2h-2zM933 688.5h2v2h-2zM933 709h2v2h-2zM933 728h2v2h-2zM933 747h2v2h-2zM933 766h2v2h-2zM933 786.5h2v2h-2zM952 11.5h2v2h-2zM952 30.5h2v2h-2zM952 49.5h2v2h-2zM952 68.5h2v2h-2zM952 89h2v2h-2zM952 108h2v2h-2zM952 127h2v2h-2zM952 146h2v2h-2zM952 166.5h2v2h-2zM952 185.5h2v2h-2zM952 204.5h2v2h-2zM952 223.5h2v2h-2zM952 244h2v2h-2zM952 263h2v2h-2zM952 282h2v2h-2zM952 301h2v2h-2zM952 321.5h2v2h-2zM952 340.5h2v2h-2zM952 359.5h2v2h-2zM952 378.5h2v2h-2zM952 399h2v2h-2zM952 418h2v2h-2zM952 437h2v2h-2zM952 456h2v2h-2zM952 476.5h2v2h-2zM952 495.5h2v2h-2zM952 514.5h2v2h-2zM952 533.5h2v2h-2zM952 554h2v2h-2zM952 573h2v2h-2zM952 592h2v2h-2zM952 611h2v2h-2zM952 631.5h2v2h-2zM952 650.5h2v2h-2zM952 669.5h2v2h-2zM952 688.5h2v2h-2zM952 709h2v2h-2zM952 728h2v2h-2zM952 747h2v2h-2zM952 766h2v2h-2zM952 786.5h2v2h-2zM971 11.5h2v2h-2zM971 30.5h2v2h-2zM971 49.5h2v2h-2zM971 68.5h2v2h-2zM971 89h2v2h-2zM971 108h2v2h-2zM971 127h2v2h-2zM971 146h2v2h-2zM971 166.5h2v2h-2zM971 185.5h2v2h-2zM971 204.5h2v2h-2zM971 223.5h2v2h-2zM971 244h2v2h-2zM971 263h2v2h-2zM971 282h2v2h-2zM971 301h2v2h-2zM971 321.5h2v2h-2zM971 340.5h2v2h-2zM971 359.5h2v2h-2zM971 378.5h2v2h-2zM971 399h2v2h-2zM971 418h2v2h-2zM971 437h2v2h-2zM971 456h2v2h-2zM971 476.5h2v2h-2zM971 495.5h2v2h-2zM971 514.5h2v2h-2zM971 533.5h2v2h-2zM971 554h2v2h-2zM971 573h2v2h-2zM971 592h2v2h-2zM971 611h2v2h-2zM971 631.5h2v2h-2zM971 650.5h2v2h-2zM971 669.5h2v2h-2zM971 688.5h2v2h-2zM971 709h2v2h-2zM971 728h2v2h-2zM971 747h2v2h-2zM971 766h2v2h-2zM971 786.5h2v2h-2zM990 11.5h2v2h-2zM990 30.5h2v2h-2zM990 49.5h2v2h-2zM990 68.5h2v2h-2zM990 89h2v2h-2zM990 108h2v2h-2zM990 127h2v2h-2zM990 146h2v2h-2zM990 166.5h2v2h-2zM990 185.5h2v2h-2zM990 204.5h2v2h-2zM990 223.5h2v2h-2zM990 244h2v2h-2zM990 263h2v2h-2zM990 282h2v2h-2zM990 301h2v2h-2zM990 321.5h2v2h-2zM990 340.5h2v2h-2zM990 359.5h2v2h-2zM990 378.5h2v2h-2zM990 399h2v2h-2zM990 418h2v2h-2zM990 437h2v2h-2zM990 456h2v2h-2zM990 476.5h2v2h-2zM990 495.5h2v2h-2zM990 514.5h2v2h-2zM990 533.5h2v2h-2zM990 554h2v2h-2zM990 573h2v2h-2zM990 592h2v2h-2zM990 611h2v2h-2zM990 631.5h2v2h-2zM990 650.5h2v2h-2zM990 669.5h2v2h-2zM990 688.5h2v2h-2zM990 709h2v2h-2zM990 728h2v2h-2zM990 747h2v2h-2zM990 766h2v2h-2zM990 786.5h2v2h-2zM1010.5 11.5h2v2h-2zM1010.5 30.5h2v2h-2zM1010.5 49.5h2v2h-2zM1010.5 68.5h2v2h-2zM1010.5 89h2v2h-2zM1010.5 108h2v2h-2zM1010.5 127h2v2h-2zM1010.5 146h2v2h-2zM1010.5 166.5h2v2h-2zM1010.5 185.5h2v2h-2zM1010.5 204.5h2v2h-2zM1010.5 223.5h2v2h-2zM1010.5 244h2v2h-2zM1010.5 263h2v2h-2zM1010.5 282h2v2h-2zM1010.5 301h2v2h-2zM1010.5 321.5h2v2h-2zM1010.5 340.5h2v2h-2zM1010.5 359.5h2v2h-2zM1010.5 378.5h2v2h-2zM1010.5 399h2v2h-2zM1010.5 418h2v2h-2zM1010.5 437h2v2h-2zM1010.5 456h2v2h-2zM1010.5 476.5h2v2h-2zM1010.5 495.5h2v2h-2zM1010.5 514.5h2v2h-2zM1010.5 533.5h2v2h-2zM1010.5 554h2v2h-2zM1010.5 573h2v2h-2zM1010.5 592h2v2h-2zM1010.5 611h2v2h-2zM1010.5 631.5h2v2h-2zM1010.5 650.5h2v2h-2zM1010.5 669.5h2v2h-2zM1010.5 688.5h2v2h-2zM1010.5 709h2v2h-2zM1010.5 728h2v2h-2zM1010.5 747h2v2h-2zM1010.5 766h2v2h-2zM1010.5 786.5h2v2h-2zM1029.5 11.5h2v2h-2zM1029.5 30.5h2v2h-2zM1029.5 49.5h2v2h-2zM1029.5 68.5h2v2h-2zM1029.5 89h2v2h-2zM1029.5 108h2v2h-2zM1029.5 127h2v2h-2zM1029.5 146h2v2h-2zM1029.5 166.5h2v2h-2zM1029.5 185.5h2v2h-2zM1029.5 204.5h2v2h-2zM1029.5 223.5h2v2h-2zM1029.5 244h2v2h-2zM1029.5 263h2v2h-2zM1029.5 282h2v2h-2zM1029.5 301h2v2h-2zM1029.5 321.5h2v2h-2zM1029.5 340.5h2v2h-2zM1029.5 359.5h2v2h-2zM1029.5 378.5h2v2h-2zM1029.5 399h2v2h-2zM1029.5 418h2v2h-2zM1029.5 437h2v2h-2zM1029.5 456h2v2h-2zM1029.5 476.5h2v2h-2zM1029.5 495.5h2v2h-2zM1029.5 514.5h2v2h-2zM1029.5 533.5h2v2h-2zM1029.5 554h2v2h-2zM1029.5 573h2v2h-2zM1029.5 592h2v2h-2zM1029.5 611h2v2h-2zM1029.5 631.5h2v2h-2zM1029.5 650.5h2v2h-2zM1029.5 669.5h2v2h-2zM1029.5 688.5h2v2h-2zM1029.5 709h2v2h-2zM1029.5 728h2v2h-2zM1029.5 747h2v2h-2zM1029.5 766h2v2h-2zM1029.5 786.5h2v2h-2zM1048.5 11.5h2v2h-2zM1048.5 30.5h2v2h-2zM1048.5 49.5h2v2h-2zM1048.5 68.5h2v2h-2zM1048.5 89h2v2h-2zM1048.5 108h2v2h-2zM1048.5 127h2v2h-2zM1048.5 146h2v2h-2zM1048.5 166.5h2v2h-2zM1048.5 185.5h2v2h-2zM1048.5 204.5h2v2h-2zM1048.5 223.5h2v2h-2zM1048.5 244h2v2h-2zM1048.5 263h2v2h-2zM1048.5 282h2v2h-2zM1048.5 301h2v2h-2zM1048.5 321.5h2v2h-2zM1048.5 340.5h2v2h-2zM1048.5 359.5h2v2h-2zM1048.5 378.5h2v2h-2zM1048.5 399h2v2h-2zM1048.5 418h2v2h-2zM1048.5 437h2v2h-2zM1048.5 456h2v2h-2zM1048.5 476.5h2v2h-2zM1048.5 495.5h2v2h-2zM1048.5 514.5h2v2h-2zM1048.5 533.5h2v2h-2zM1048.5 554h2v2h-2zM1048.5 573h2v2h-2zM1048.5 592h2v2h-2zM1048.5 611h2v2h-2zM1048.5 631.5h2v2h-2zM1048.5 650.5h2v2h-2zM1048.5 669.5h2v2h-2zM1048.5 688.5h2v2h-2zM1048.5 709h2v2h-2zM1048.5 728h2v2h-2zM1048.5 747h2v2h-2zM1048.5 766h2v2h-2zM1048.5 786.5h2v2h-2zM1067.5 11.5h2v2h-2zM1067.5 30.5h2v2h-2zM1067.5 49.5h2v2h-2zM1067.5 68.5h2v2h-2zM1067.5 89h2v2h-2zM1067.5 108h2v2h-2zM1067.5 127h2v2h-2zM1067.5 146h2v2h-2zM1067.5 166.5h2v2h-2zM1067.5 185.5h2v2h-2zM1067.5 204.5h2v2h-2zM1067.5 223.5h2v2h-2zM1067.5 244h2v2h-2zM1067.5 263h2v2h-2zM1067.5 282h2v2h-2zM1067.5 301h2v2h-2zM1067.5 321.5h2v2h-2zM1067.5 340.5h2v2h-2zM1067.5 359.5h2v2h-2zM1067.5 378.5h2v2h-2zM1067.5 399h2v2h-2zM1067.5 418h2v2h-2zM1067.5 437h2v2h-2zM1067.5 456h2v2h-2zM1067.5 476.5h2v2h-2zM1067.5 495.5h2v2h-2zM1067.5 514.5h2v2h-2zM1067.5 533.5h2v2h-2zM1067.5 554h2v2h-2zM1067.5 573h2v2h-2zM1067.5 592h2v2h-2zM1067.5 611h2v2h-2zM1067.5 631.5h2v2h-2zM1067.5 650.5h2v2h-2zM1067.5 669.5h2v2h-2zM1067.5 688.5h2v2h-2zM1067.5 709h2v2h-2zM1067.5 728h2v2h-2zM1067.5 747h2v2h-2zM1067.5 766h2v2h-2zM1067.5 786.5h2v2h-2zM1088 11.5h2v2h-2zM1088 30.5h2v2h-2zM1088 49.5h2v2h-2zM1088 68.5h2v2h-2zM1088 89h2v2h-2zM1088 108h2v2h-2zM1088 127h2v2h-2zM1088 146h2v2h-2zM1088 166.5h2v2h-2zM1088 185.5h2v2h-2zM1088 204.5h2v2h-2zM1088 223.5h2v2h-2zM1088 244h2v2h-2zM1088 263h2v2h-2zM1088 282h2v2h-2zM1088 301h2v2h-2zM1088 321.5h2v2h-2zM1088 340.5h2v2h-2zM1088 359.5h2v2h-2zM1088 378.5h2v2h-2zM1088 399h2v2h-2zM1088 418h2v2h-2zM1088 437h2v2h-2zM1088 456h2v2h-2zM1088 476.5h2v2h-2zM1088 495.5h2v2h-2zM1088 514.5h2v2h-2zM1088 533.5h2v2h-2zM1088 554h2v2h-2zM1088 573h2v2h-2zM1088 592h2v2h-2zM1088 611h2v2h-2zM1088 631.5h2v2h-2zM1088 650.5h2v2h-2zM1088 669.5h2v2h-2zM1088 688.5h2v2h-2zM1088 709h2v2h-2zM1088 728h2v2h-2zM1088 747h2v2h-2zM1088 766h2v2h-2zM1088 786.5h2v2h-2zM1107 11.5h2v2h-2zM1107 30.5h2v2h-2zM1107 49.5h2v2h-2zM1107 68.5h2v2h-2zM1107 89h2v2h-2zM1107 108h2v2h-2zM1107 127h2v2h-2zM1107 146h2v2h-2zM1107 166.5h2v2h-2zM1107 185.5h2v2h-2zM1107 204.5h2v2h-2zM1107 223.5h2v2h-2zM1107 244h2v2h-2zM1107 263h2v2h-2zM1107 282h2v2h-2zM1107 301h2v2h-2zM1107 321.5h2v2h-2zM1107 340.5h2v2h-2zM1107 359.5h2v2h-2zM1107 378.5h2v2h-2zM1107 399h2v2h-2zM1107 418h2v2h-2zM1107 437h2v2h-2zM1107 456h2v2h-2zM1107 476.5h2v2h-2zM1107 495.5h2v2h-2zM1107 514.5h2v2h-2zM1107 533.5h2v2h-2zM1107 554h2v2h-2zM1107 573h2v2h-2zM1107 592h2v2h-2zM1107 611h2v2h-2zM1107 631.5h2v2h-2zM1107 650.5h2v2h-2zM1107 669.5h2v2h-2zM1107 688.5h2v2h-2zM1107 709h2v2h-2zM1107 728h2v2h-2zM1107 747h2v2h-2zM1107 766h2v2h-2zM1107 786.5h2v2h-2zM1126 11.5h2v2h-2zM1126 30.5h2v2h-2zM1126 49.5h2v2h-2zM1126 68.5h2v2h-2zM1126 89h2v2h-2zM1126 108h2v2h-2zM1126 127h2v2h-2zM1126 146h2v2h-2zM1126 166.5h2v2h-2zM1126 185.5h2v2h-2zM1126 204.5h2v2h-2zM1126 223.5h2v2h-2zM1126 244h2v2h-2zM1126 263h2v2h-2zM1126 282h2v2h-2zM1126 301h2v2h-2zM1126 321.5h2v2h-2zM1126 340.5h2v2h-2zM1126 359.5h2v2h-2zM1126 378.5h2v2h-2zM1126 399h2v2h-2zM1126 418h2v2h-2zM1126 437h2v2h-2zM1126 456h2v2h-2zM1126 476.5h2v2h-2zM1126 495.5h2v2h-2zM1126 514.5h2v2h-2zM1126 533.5h2v2h-2zM1126 554h2v2h-2zM1126 573h2v2h-2zM1126 592h2v2h-2zM1126 611h2v2h-2zM1126 631.5h2v2h-2zM1126 650.5h2v2h-2zM1126 669.5h2v2h-2zM1126 688.5h2v2h-2zM1126 709h2v2h-2zM1126 728h2v2h-2zM1126 747h2v2h-2zM1126 766h2v2h-2zM1126 786.5h2v2h-2zM1145 11.5h2v2h-2zM1145 30.5h2v2h-2zM1145 49.5h2v2h-2zM1145 68.5h2v2h-2zM1145 89h2v2h-2zM1145 108h2v2h-2zM1145 127h2v2h-2zM1145 146h2v2h-2zM1145 166.5h2v2h-2zM1145 185.5h2v2h-2zM1145 204.5h2v2h-2zM1145 223.5h2v2h-2zM1145 244h2v2h-2zM1145 263h2v2h-2zM1145 282h2v2h-2zM1145 301h2v2h-2zM1145 321.5h2v2h-2zM1145 340.5h2v2h-2zM1145 359.5h2v2h-2zM1145 378.5h2v2h-2zM1145 399h2v2h-2zM1145 418h2v2h-2zM1145 437h2v2h-2zM1145 456h2v2h-2zM1145 476.5h2v2h-2zM1145 495.5h2v2h-2zM1145 514.5h2v2h-2zM1145 533.5h2v2h-2zM1145 554h2v2h-2zM1145 573h2v2h-2zM1145 592h2v2h-2zM1145 611h2v2h-2zM1145 631.5h2v2h-2zM1145 650.5h2v2h-2zM1145 669.5h2v2h-2zM1145 688.5h2v2h-2zM1145 709h2v2h-2zM1145 728h2v2h-2zM1145 747h2v2h-2zM1145 766h2v2h-2zM1145 786.5h2v2h-2zM1165.5 11.5h2v2h-2zM1165.5 30.5h2v2h-2zM1165.5 49.5h2v2h-2zM1165.5 68.5h2v2h-2zM1165.5 89h2v2h-2zM1165.5 108h2v2h-2zM1165.5 127h2v2h-2zM1165.5 146h2v2h-2zM1165.5 166.5h2v2h-2zM1165.5 185.5h2v2h-2zM1165.5 204.5h2v2h-2zM1165.5 223.5h2v2h-2zM1165.5 244h2v2h-2zM1165.5 263h2v2h-2zM1165.5 282h2v2h-2zM1165.5 301h2v2h-2zM1165.5 321.5h2v2h-2zM1165.5 340.5h2v2h-2zM1165.5 359.5h2v2h-2zM1165.5 378.5h2v2h-2zM1165.5 399h2v2h-2zM1165.5 418h2v2h-2zM1165.5 437h2v2h-2zM1165.5 456h2v2h-2zM1165.5 476.5h2v2h-2zM1165.5 495.5h2v2h-2zM1165.5 514.5h2v2h-2zM1165.5 533.5h2v2h-2zM1165.5 554h2v2h-2zM1165.5 573h2v2h-2zM1165.5 592h2v2h-2zM1165.5 611h2v2h-2zM1165.5 631.5h2v2h-2zM1165.5 650.5h2v2h-2zM1165.5 669.5h2v2h-2zM1165.5 688.5h2v2h-2zM1165.5 709h2v2h-2zM1165.5 728h2v2h-2zM1165.5 747h2v2h-2zM1165.5 766h2v2h-2zM1165.5 786.5h2v2h-2zM1184.5 11.5h2v2h-2zM1184.5 30.5h2v2h-2zM1184.5 49.5h2v2h-2zM1184.5 68.5h2v2h-2zM1184.5 89h2v2h-2zM1184.5 108h2v2h-2zM1184.5 127h2v2h-2zM1184.5 146h2v2h-2zM1184.5 166.5h2v2h-2zM1184.5 185.5h2v2h-2zM1184.5 204.5h2v2h-2zM1184.5 223.5h2v2h-2zM1184.5 244h2v2h-2zM1184.5 263h2v2h-2zM1184.5 282h2v2h-2zM1184.5 301h2v2h-2zM1184.5 321.5h2v2h-2zM1184.5 340.5h2v2h-2zM1184.5 359.5h2v2h-2zM1184.5 378.5h2v2h-2zM1184.5 399h2v2h-2zM1184.5 418h2v2h-2zM1184.5 437h2v2h-2zM1184.5 456h2v2h-2zM1184.5 476.5h2v2h-2zM1184.5 495.5h2v2h-2zM1184.5 514.5h2v2h-2zM1184.5 533.5h2v2h-2zM1184.5 554h2v2h-2zM1184.5 573h2v2h-2zM1184.5 592h2v2h-2zM1184.5 611h2v2h-2zM1184.5 631.5h2v2h-2zM1184.5 650.5h2v2h-2zM1184.5 669.5h2v2h-2zM1184.5 688.5h2v2h-2zM1184.5 709h2v2h-2zM1184.5 728h2v2h-2zM1184.5 747h2v2h-2zM1184.5 766h2v2h-2zM1184.5 786.5h2v2h-2zM1203.5 11.5h2v2h-2zM1203.5 30.5h2v2h-2zM1203.5 49.5h2v2h-2zM1203.5 68.5h2v2h-2zM1203.5 89h2v2h-2zM1203.5 108h2v2h-2zM1203.5 127h2v2h-2zM1203.5 146h2v2h-2zM1203.5 166.5h2v2h-2zM1203.5 185.5h2v2h-2zM1203.5 204.5h2v2h-2zM1203.5 223.5h2v2h-2zM1203.5 244h2v2h-2zM1203.5 263h2v2h-2zM1203.5 282h2v2h-2zM1203.5 301h2v2h-2zM1203.5 321.5h2v2h-2zM1203.5 340.5h2v2h-2zM1203.5 359.5h2v2h-2zM1203.5 378.5h2v2h-2zM1203.5 399h2v2h-2zM1203.5 418h2v2h-2zM1203.5 437h2v2h-2zM1203.5 456h2v2h-2zM1203.5 476.5h2v2h-2zM1203.5 495.5h2v2h-2zM1203.5 514.5h2v2h-2zM1203.5 533.5h2v2h-2zM1203.5 554h2v2h-2zM1203.5 573h2v2h-2zM1203.5 592h2v2h-2zM1203.5 611h2v2h-2zM1203.5 631.5h2v2h-2zM1203.5 650.5h2v2h-2zM1203.5 669.5h2v2h-2zM1203.5 688.5h2v2h-2zM1203.5 709h2v2h-2zM1203.5 728h2v2h-2zM1203.5 747h2v2h-2zM1203.5 766h2v2h-2zM1203.5 786.5h2v2h-2zM1222.5 11.5h2v2h-2zM1222.5 30.5h2v2h-2zM1222.5 49.5h2v2h-2zM1222.5 68.5h2v2h-2zM1222.5 89h2v2h-2zM1222.5 108h2v2h-2zM1222.5 127h2v2h-2zM1222.5 146h2v2h-2zM1222.5 166.5h2v2h-2zM1222.5 185.5h2v2h-2zM1222.5 204.5h2v2h-2zM1222.5 223.5h2v2h-2zM1222.5 244h2v2h-2zM1222.5 263h2v2h-2zM1222.5 282h2v2h-2zM1222.5 301h2v2h-2zM1222.5 321.5h2v2h-2zM1222.5 340.5h2v2h-2zM1222.5 359.5h2v2h-2zM1222.5 378.5h2v2h-2zM1222.5 399h2v2h-2zM1222.5 418h2v2h-2zM1222.5 437h2v2h-2zM1222.5 456h2v2h-2zM1222.5 476.5h2v2h-2zM1222.5 495.5h2v2h-2zM1222.5 514.5h2v2h-2zM1222.5 533.5h2v2h-2zM1222.5 554h2v2h-2zM1222.5 573h2v2h-2zM1222.5 592h2v2h-2zM1222.5 611h2v2h-2zM1222.5 631.5h2v2h-2zM1222.5 650.5h2v2h-2zM1222.5 669.5h2v2h-2zM1222.5 688.5h2v2h-2zM1222.5 709h2v2h-2zM1222.5 728h2v2h-2zM1222.5 747h2v2h-2zM1222.5 766h2v2h-2zM1222.5 786.5h2v2h-2zM1243 11.5h2v2h-2zM1243 30.5h2v2h-2zM1243 49.5h2v2h-2zM1243 68.5h2v2h-2zM1243 89h2v2h-2zM1243 108h2v2h-2zM1243 127h2v2h-2zM1243 146h2v2h-2zM1243 166.5h2v2h-2zM1243 185.5h2v2h-2zM1243 204.5h2v2h-2zM1243 223.5h2v2h-2zM1243 244h2v2h-2zM1243 263h2v2h-2zM1243 282h2v2h-2zM1243 301h2v2h-2zM1243 321.5h2v2h-2zM1243 340.5h2v2h-2zM1243 359.5h2v2h-2zM1243 378.5h2v2h-2zM1243 399h2v2h-2zM1243 418h2v2h-2zM1243 437h2v2h-2zM1243 456h2v2h-2zM1243 476.5h2v2h-2zM1243 495.5h2v2h-2zM1243 514.5h2v2h-2zM1243 533.5h2v2h-2zM1243 554h2v2h-2zM1243 573h2v2h-2zM1243 592h2v2h-2zM1243 611h2v2h-2zM1243 631.5h2v2h-2zM1243 650.5h2v2h-2zM1243 669.5h2v2h-2zM1243 688.5h2v2h-2zM1243 709h2v2h-2zM1243 728h2v2h-2zM1243 747h2v2h-2zM1243 766h2v2h-2zM1243 786.5h2v2h-2z"/>
<polyline fill="none" points="61,341.5 61,400 197,400" stroke="#ff1a1a" stroke-width="2" stroke-linejoin="miter"/>
<line x1="100.5" y1="341.5" x2="100.5" y2="438" stroke="#ff1a1a" stroke-width="2"/>
<line x1="100.5" y1="438" x2="100.5" y2="457" stroke="#222" stroke-width="2.2"/>
<line x1="81.1" y1="457" x2="119.9" y2="457" stroke="#222" stroke-width="2.6"/>
<line x1="87.9" y1="464" x2="113.1" y2="464" stroke="#222" stroke-width="2.6"/>
<line x1="93.7" y1="470.8" x2="107.3" y2="470.8" stroke="#222" stroke-width="2.6"/>
<line x1="197" y1="400" x2="216" y2="400" stroke="#222" stroke-width="2.2"/>
<polyline fill="none" points="216,400 220.5,391.3 229.4,410.1 239.5,391.3 248.3,410.1 258.4,391.3 267,410.1 273.5,400" stroke="#222" stroke-width="2" stroke-linejoin="miter"/>
<line x1="274.5" y1="400" x2="334" y2="400" stroke="#222" stroke-width="2.2"/>
<polygon fill="#000" points="336.5,376.5 339.9,379.5 339.1,379.7 339.1,418.8 339.9,419 336.5,422 333.1,419 333.9,418.8 333.9,379.7 333.1,379.5"/>
<polygon fill="#000" points="348.5,376.5 351.9,379.5 351.1,379.7 351.1,418.8 351.9,419 348.5,422 345.1,419 345.9,418.8 345.9,379.7 345.1,379.5"/>
<line x1="351" y1="400" x2="391.5" y2="400" stroke="#222" stroke-width="2.2"/>
<line x1="391.5" y1="400" x2="429.5" y2="400" stroke="#ff1a1a" stroke-width="2"/>
<line x1="429.5" y1="400" x2="584.5" y2="400" stroke="#ff1a1a" stroke-width="2"/>
<line x1="584.5" y1="400" x2="620.5" y2="400" stroke="#1a1aff" stroke-width="2.2"/>
<line x1="429.5" y1="90" x2="429.5" y2="186.5" stroke="#ff1a1a" stroke-width="2"/>
<polyline fill="none" points="429.5,187 429.5,205.7" stroke="#222" stroke-width="2.2" stroke-linejoin="miter"/>
<polyline fill="none" points="429.5,205.5 439.5,212.1 420.3,220.7 439.5,230.9 420.3,240 439.5,250.1 420.3,258.7 429.5,263.3" stroke="#222" stroke-width="2" stroke-linejoin="miter"/>
<line x1="429.5" y1="264" x2="429.5" y2="283" stroke="#222" stroke-width="2.2"/>
<line x1="429.5" y1="283" x2="429.5" y2="534.5" stroke="#ff1a1a" stroke-width="2"/>
<line x1="429.5" y1="534.5" x2="429.5" y2="555" stroke="#222" stroke-width="2.2"/>
<polyline fill="none" points="429.5,555 439.5,561.6 420.3,570.2 439.5,580.4 420.3,589.5 439.5,599.6 420.3,608.2 429.5,612.8" stroke="#222" stroke-width="2" stroke-linejoin="miter"/>
<line x1="429.5" y1="612" x2="429.5" y2="632.5" stroke="#222" stroke-width="2.2"/>
<line x1="429.5" y1="632.5" x2="429.5" y2="748" stroke="#ff1a1a" stroke-width="2"/>
<line x1="428.5" y1="90" x2="603.5" y2="90" stroke="#ff1a1a" stroke-width="2"/>
<line x1="603.5" y1="90" x2="603.5" y2="186.5" stroke="#ff1a1a" stroke-width="2"/>
<line x1="603.5" y1="186.5" x2="603.5" y2="205.5" stroke="#222" stroke-width="2.2"/>
<polyline fill="none" points="603.5,205.5 613.5,212.1 594.3,220.7 613.5,230.9 594.3,240 613.5,250.1 594.3,258.7 603.5,263.3" stroke="#222" stroke-width="2" stroke-linejoin="miter"/>
<line x1="603.5" y1="264" x2="603.5" y2="283" stroke="#222" stroke-width="2.2"/>
<polyline fill="none" points="603.5,283 603.5,302 739.5,302" stroke="#ff1a1a" stroke-width="2" stroke-linejoin="miter"/>
<polyline fill="none" points="603.5,109 739.5,109" stroke="#ff1a1a" stroke-width="2" stroke-linejoin="miter"/>
<line x1="739.5" y1="110" x2="739.5" y2="69.5" stroke="#222" stroke-width="2.2"/>
<line x1="701.5" y1="69.5" x2="779" y2="69.5" stroke="#222" stroke-width="2.6"/>
<line x1="739.5" y1="302" x2="780" y2="302" stroke="#222" stroke-width="2.2"/>
<polygon fill="#000" points="782.6,280.3 786,283.3 785.2,283.5 785.2,321.9 786,322.1 782.6,325.1 779.2,322.1 780,321.9 780,283.5 779.2,283.3"/>
<polygon fill="#000" points="793,280.3 796.4,283.3 795.6,283.5 795.6,321.9 796.4,322.1 793,325.1 789.6,322.1 790.4,321.9 790.4,283.5 789.6,283.3"/>
<line x1="795" y1="302" x2="836" y2="302" stroke="#222" stroke-width="2.2"/>
<polyline fill="none" points="836,302 934,302 934,341.5" stroke="#ff1a1a" stroke-width="2" stroke-linejoin="miter"/>
<line x1="934" y1="341.5" x2="934" y2="360.5" stroke="#222" stroke-width="2.2"/>
<polyline fill="none" points="934,360.5 944,367.1 924.8,375.7 944,385.9 924.8,395 944,405.1 924.8,413.7 934,418.3" stroke="#222" stroke-width="2" stroke-linejoin="miter"/>
<line x1="934" y1="419" x2="934" y2="457" stroke="#222" stroke-width="2.2"/>
<line x1="934" y1="456.5" x2="934" y2="457" stroke="#222" stroke-width="2.2"/>
<line x1="914.6" y1="457" x2="953.4" y2="457" stroke="#222" stroke-width="2.6"/>
<line x1="921.4" y1="464" x2="946.6" y2="464" stroke="#222" stroke-width="2.6"/>
<line x1="927.2" y1="470.8" x2="940.8" y2="470.8" stroke="#222" stroke-width="2.6"/>
<line x1="643" y1="302" x2="643" y2="322.5" stroke="#ff1a1a" stroke-width="2"/>
<line x1="643" y1="322.5" x2="643" y2="371.6" stroke="#1a1aff" stroke-width="2.2"/>
<line x1="643" y1="428.6" x2="643" y2="477.5" stroke="#1a1aff" stroke-width="2.2"/>
<line x1="643" y1="477.5" x2="643" y2="574" stroke="#ff1a1a" stroke-width="2"/>
<line x1="643" y1="574" x2="643" y2="593" stroke="#222" stroke-width="2.2"/>
<polyline fill="none" points="643,593 653,599.6 633.8,608.2 653,618.4 633.8,627.5 653,637.6 633.8,646.2 643,650.8" stroke="#222" stroke-width="2" stroke-linejoin="miter"/>
<line x1="643" y1="651.5" x2="643" y2="670.5" stroke="#222" stroke-width="2.2"/>
<line x1="643" y1="670.5" x2="643" y2="748" stroke="#ff1a1a" stroke-width="2"/>
<polyline fill="none" points="643,534.5 894.5,534.5 894.5,651.5" stroke="#ff1a1a" stroke-width="2" stroke-linejoin="miter"/>
<line x1="894.5" y1="651.5" x2="894.5" y2="693" stroke="#222" stroke-width="2.2"/>
<polygon fill="#000" points="872.9,695 875.9,691.6 876.1,692.4 913,692.4 913.2,691.6 916.2,695 913.2,698.4 913,697.6 876.1,697.6 875.9,698.4"/>
<polygon fill="#000" points="872.9,705.1 875.9,701.7 876.1,702.5 913,702.5 913.2,701.7 916.2,705.1 913.2,708.5 913,707.7 876.1,707.7 875.9,708.5"/>
<line x1="894.5" y1="707" x2="894.5" y2="748" stroke="#222" stroke-width="2.2"/>
<line x1="428.5" y1="748" x2="895.5" y2="748" stroke="#ff1a1a" stroke-width="2"/>
<line x1="662" y1="748" x2="662" y2="767" stroke="#222" stroke-width="2.2"/>
<line x1="642.6" y1="767" x2="681.4" y2="767" stroke="#222" stroke-width="2.6"/>
<line x1="649.4" y1="774" x2="674.6" y2="774" stroke="#222" stroke-width="2.6"/>
<line x1="655.2" y1="780.8" x2="668.8" y2="780.8" stroke="#222" stroke-width="2.6"/>
<circle cx="429.5" cy="398.2" r="4.5" fill="#ff0000"/>
<circle cx="603.5" cy="87.7" r="4.5" fill="#ff0000"/>
<circle cx="641.4" cy="301.5" r="4.5" fill="#ff0000"/>
<circle cx="641.4" cy="534.2" r="4.5" fill="#ff0000"/>
<circle cx="661.9" cy="747.9" r="4.5" fill="#ff0000"/>
<line x1="662" y1="747" x2="662" y2="767" stroke="#222" stroke-width="2.2"/>
<circle cx="637" cy="399" r="33" fill="none" stroke="#1a1aff" stroke-width="1.9"/>
<line x1="620.5" y1="373.3" x2="620.5" y2="424.6" stroke="#1a1aff" stroke-width="2.2"/>
<line x1="621.3" y1="380.8" x2="643" y2="371.3" stroke="#1a1aff" stroke-width="2"/>
<line x1="621.3" y1="417.2" x2="643" y2="428.6" stroke="#1a1aff" stroke-width="2"/>
<polygon fill="#1a1aff" points="636.5,416 630,428 641,426.5"/>
<rect x="42.4" y="245.3" width="114.6" height="74.8" fill="#bfdcbf" stroke="#1e1e1e" stroke-width="2"/>
<rect x="47.5" y="255.6" width="28.5" height="22.1" fill="#c0c0c0" stroke="#fff" stroke-width="2"/>
<rect x="85.2" y="255.6" width="30.4" height="22.1" fill="#c0c0c0" stroke="#fff" stroke-width="2"/>
<rect x="125.1" y="255.6" width="28.2" height="22.1" fill="#c0c0c0" stroke="#fff" stroke-width="2"/>
<polyline fill="none" points="48,271.3 56,263.4 61,270.8 67.9,263.4 75.3,270.2" stroke="#111" stroke-width="1.6" stroke-linejoin="miter"/>
<path d="M86.2,263.9 Q89,271 92.4,270.8 Q96,270 99,266 Q102,262 105.5,261.7 Q109,262 111.2,267.4" fill="none" stroke="#111" stroke-width="1.6"/>
<polyline fill="none" points="126,270.8 132.9,270.8 132.9,263.7 139.1,263.7 139.1,270.8 146,270.8 146,263.7 151.1,263.7" stroke="#111" stroke-width="1.6" stroke-linejoin="miter"/>
<text x="80.5" y="298" fill="#2d3b2d" font-size="16.8" font-family="Liberation Sans">COM</text>
<line x1="54.8" y1="293.3" x2="67.4" y2="293.3" stroke="#222" stroke-width="1.8"/>
<line x1="61.1" y1="287.3" x2="61.1" y2="299.3" stroke="#222" stroke-width="1.8"/>
<line x1="132.3" y1="293.3" x2="144.3" y2="293.3" stroke="#222" stroke-width="1.8"/>
<circle cx="61.1" cy="307.2" r="5.2" fill="#9a9a9a" stroke="#111" stroke-width="1.4"/>
<circle cx="99.8" cy="307.2" r="5.2" fill="#9a9a9a" stroke="#111" stroke-width="1.4"/>
<circle cx="138.6" cy="307.2" r="5.2" fill="#9a9a9a" stroke="#111" stroke-width="1.4"/>
<line x1="61" y1="307" x2="61" y2="341.5" stroke="#222" stroke-width="2.2"/>
<line x1="100.5" y1="307" x2="100.5" y2="341.5" stroke="#222" stroke-width="2.2"/>
<line x1="138.5" y1="307" x2="138.5" y2="341.9" stroke="#222" stroke-width="2.2"/>
<text transform="translate(65,227.6) scale(0.84,1)" x="0" y="0" fill="#111" stroke="#111" stroke-width="0.4" font-size="26" font-weight="bold" letter-spacing="3.6" font-family="Liberation Serif">XFG1</text>
<line x1="981.8" y1="286.3" x2="1071" y2="270.5" stroke="#7f9be0" stroke-width="1.5"/>
<path d="M933.2,315.2 L944.2,302.5 L951,308.8 L941.5,318.8 Q938,322.4 933.2,323.2 Z" fill="#aad8aa"/>
<line x1="943.7" y1="299.6" x2="955.4" y2="310.3" stroke="#b2dcb2" stroke-width="2"/>
<circle cx="963.6" cy="290.3" r="17" fill="#fff" stroke="#5b8b5b" stroke-width="3"/>
<polyline points="957.8,282.3 963.8,297.4 969.8,282.3" fill="none" stroke="#5b8b5b" stroke-width="2.8" stroke-linejoin="bevel"/>
<rect x="1071.4" y="136.7" width="156.7" height="133.4" rx="4" fill="#ffffbb" stroke="#86a0e4" stroke-width="1.3"/>
<text transform="translate(1079.3,159.3) scale(1.07,1)" x="0" y="0" fill="#1c1c1c" font-size="18.5" font-family="Liberation Sans">V:</text>
<line x1="1103.7" y1="155.2" x2="1117.7" y2="155.2" stroke="#1c1c1c" stroke-width="1.7" stroke-dasharray="6.3 1.4"/>
<text transform="translate(1079.3,183.6) scale(1.07,1)" x="0" y="0" fill="#1c1c1c" font-size="18.5" font-family="Liberation Sans">V(p-p):</text>
<line x1="1144.5" y1="179.4" x2="1158.9" y2="179.4" stroke="#1c1c1c" stroke-width="1.7" stroke-dasharray="6.3 1.4"/>
<text transform="translate(1079.3,207.8) scale(1.07,1)" x="0" y="0" fill="#1c1c1c" font-size="18.5" font-family="Liberation Sans">V(rms):</text>
<line x1="1148.4" y1="203.7" x2="1162.6" y2="203.7" stroke="#1c1c1c" stroke-width="1.7" stroke-dasharray="6.3 1.4"/>
<text transform="translate(1079.3,232) scale(1.07,1)" x="0" y="0" fill="#1c1c1c" font-size="18.5" font-family="Liberation Sans">V(dc):</text>
<line x1="1138.3" y1="228" x2="1152" y2="228" stroke="#1c1c1c" stroke-width="1.7" stroke-dasharray="6.3 1.4"/>
<text transform="translate(1079.3,255.9) scale(1.07,1)" x="0" y="0" fill="#1c1c1c" font-size="18.5" font-family="Liberation Sans">V(freq):</text>
<line x1="1152" y1="251.8" x2="1165.6" y2="251.8" stroke="#1c1c1c" stroke-width="1.7" stroke-dasharray="6.3 1.4"/>
<text x="224.6" y="376" fill="#000" stroke="#000" stroke-width="0.9" font-size="28" font-weight="normal">R4</text>
<text x="216" y="439" fill="#000" stroke="#000" stroke-width="0.9" font-size="28" font-weight="normal">50<tspan dx="2.5">Ω</tspan></text>
<text x="322" y="363.2" fill="#000" stroke="#000" stroke-width="0.9" font-size="28" font-weight="normal">C1</text>
<text x="314.5" y="450" fill="#000" stroke="#000" stroke-width="0.9" font-size="28" font-weight="normal">1µF</text>
<text x="443" y="206" fill="#000" stroke="#000" stroke-width="0.9" font-size="28" font-weight="normal">R2</text>
<text x="443.6" y="244.7" fill="#000" stroke="#000" stroke-width="0.9" font-size="28" font-weight="normal">29<tspan dx="1">k</tspan><tspan dx="2.5">Ω</tspan></text>
<text x="617" y="205.5" fill="#000" stroke="#000" stroke-width="0.9" font-size="28" font-weight="normal">RC</text>
<text x="617.5" y="244.5" fill="#000" stroke="#000" stroke-width="0.9" font-size="28" font-weight="normal">25<tspan dx="1">k</tspan><tspan dx="2.5">Ω</tspan></text>
<text x="708.5" y="54.3" fill="#000" stroke="#000" stroke-width="0.9" font-size="28" font-weight="normal">VCC</text>
<text x="781.5" y="95.5" fill="#000" stroke="#000" stroke-width="0.9" font-size="28" font-weight="normal">12V</text>
<text x="768" y="266.3" fill="#000" stroke="#000" stroke-width="0.9" font-size="28" font-weight="normal">C2</text>
<text x="760.5" y="351.5" fill="#000" stroke="#000" stroke-width="0.9" font-size="28" font-weight="normal">1µF</text>
<text x="676" y="371.5" fill="#1a1aff" stroke="#1a1aff" stroke-width="0.9" font-size="28" font-weight="normal">Q1</text>
<text x="675.5" y="406" fill="#1a1aff" stroke="#1a1aff" stroke-width="0.9" font-size="28" font-weight="normal">2N3904</text>
<text x="946" y="360.4" fill="#000" stroke="#000" stroke-width="0.9" font-size="28" font-weight="normal">R3</text>
<text x="946.5" y="399.7" fill="#000" stroke="#000" stroke-width="0.9" font-size="28" font-weight="normal">5<tspan dx="1">k</tspan><tspan dx="2.5">Ω</tspan></text>
<text x="994.5" y="314.2" fill="#000" stroke="#000" stroke-width="0.9" font-size="28" font-weight="normal">P<tspan dx="1">R</tspan><tspan dx="1">2</tspan></text>
<text x="443" y="554.6" fill="#000" stroke="#000" stroke-width="0.9" font-size="28" font-weight="normal">R1</text>
<text x="443.5" y="593.3" fill="#000" stroke="#000" stroke-width="0.9" font-size="28" font-weight="normal">28<tspan dx="1">k</tspan><tspan dx="2.5">Ω</tspan></text>
<text x="657" y="593.3" fill="#000" stroke="#000" stroke-width="0.9" font-size="28" font-weight="normal">RE</text>
<text x="657.5" y="632.5" fill="#000" stroke="#000" stroke-width="0.9" font-size="28" font-weight="normal">1<tspan dx="1">k</tspan><tspan dx="2.5">Ω</tspan></text>
<text x="919.5" y="670.8" fill="#000" stroke="#000" stroke-width="0.9" font-size="28" font-weight="normal">C3</text>
<text x="920" y="709.9" fill="#000" stroke="#000" stroke-width="0.9" font-size="28" font-weight="normal">1µF</text>
</svg>
</body></html>
